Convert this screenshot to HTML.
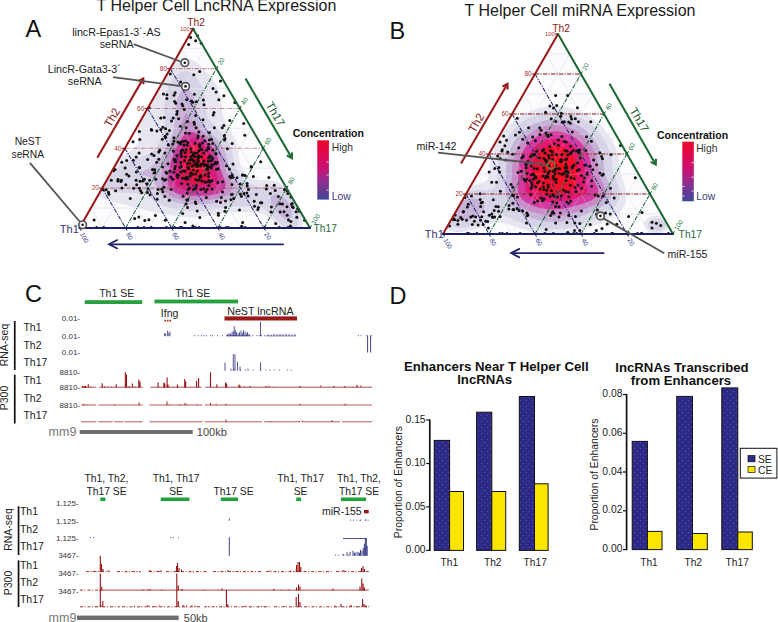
<!DOCTYPE html>
<html><head><meta charset="utf-8"><title>T Helper Cell Expression</title>
<style>html,body{margin:0;padding:0;background:#fff;width:778px;height:622px;overflow:hidden;font-family:"Liberation Sans",sans-serif}</style>
</head><body>
<svg width="778" height="622" viewBox="0 0 778 622" style="position:absolute;left:0;top:0">
<rect width="778" height="622" fill="#fff"/>
<defs><linearGradient id="cgrad" x1="0" y1="0" x2="0" y2="1"><stop offset="0" stop-color="#ea0628"/><stop offset="0.28" stop-color="#dc0a58"/><stop offset="0.5" stop-color="#c41478"/><stop offset="0.7" stop-color="#8c2e8e"/><stop offset="0.86" stop-color="#633a92"/><stop offset="1" stop-color="#3e489c"/></linearGradient></defs>
<clipPath id="clA"><path d="M79.5,228 L310,228 L193,28.7 Z"/></clipPath>
<path d="M79.5,228 L310,228 L193,28.7 Z" fill="#fcfcfe"/>
<g stroke="#d9d9e0" stroke-width="0.6"><line x1="90.8" y1="208.1" x2="298.3" y2="208.1"/><line x1="181.7" y1="48.6" x2="286.9" y2="228"/><line x1="102.5" y1="228" x2="204.7" y2="48.6"/><line x1="113.5" y1="168.2" x2="274.9" y2="168.2"/><line x1="158.9" y1="88.5" x2="240.8" y2="228"/><line x1="148.7" y1="228" x2="228.1" y2="88.5"/><line x1="136.2" y1="128.3" x2="251.5" y2="128.3"/><line x1="136.2" y1="128.3" x2="194.8" y2="228"/><line x1="194.8" y1="228" x2="251.5" y2="128.3"/><line x1="158.9" y1="88.5" x2="228.1" y2="88.5"/><line x1="113.6" y1="168.2" x2="148.7" y2="228"/><line x1="240.8" y1="228" x2="274.9" y2="168.2"/><line x1="181.7" y1="48.6" x2="204.7" y2="48.6"/><line x1="90.8" y1="208.1" x2="102.5" y2="228"/><line x1="286.9" y1="228" x2="298.3" y2="208.1"/></g>
<g clip-path="url(#clA)"><path d="M295.5,233.8 293.5,234.1 291.5,233.9 290.5,233.6 288.5,233 287.5,232.5 285.9,231.7 284.5,230.9 283.5,230.2 282.5,229.5 281.5,228.7 280.2,227.7 279.1,226.7 278,225.7 276.9,224.7 275.8,223.7 274.8,222.7 273.7,221.7 272.7,220.7 271.6,219.7 270.5,218.7 269.5,217.9 268.5,217.1 267.5,216.4 266.4,215.7 264.6,214.7 263.5,214.2 261.9,213.7 260.5,213.3 258.5,213 256.5,212.7 255.5,212.6 253.5,212.5 251.5,212.4 249.5,212.3 247.5,212.3 245.5,212.2 243.5,212.2 241.5,212.1 239.5,212.1 237.5,212.1 235.5,212.2 233.5,212.2 231.5,212.4 229.5,212.5 227.7,212.7 226.5,212.8 224.5,213.1 222.5,213.4 220.8,213.7 219.5,213.9 217.5,214.3 215.5,214.7 214.5,214.9 212.5,215.2 210.5,215.6 209.5,215.8 207.5,216.1 205.5,216.4 203.5,216.7 202.5,216.8 200.5,217 198.5,217.2 196.5,217.3 194.5,217.4 192.5,217.4 190.5,217.4 188.5,217.3 186.5,217.2 184.5,217.1 182.5,216.9 180.8,216.7 179.5,216.6 177.5,216.3 175.5,216 173.6,215.7 172.5,215.5 170.5,215.2 168.5,214.8 167.5,214.7 165.5,214.3 163.5,213.9 162.3,213.7 160.5,213.4 158.5,213 157.2,212.7 155.5,212.4 153.5,211.9 152.4,211.7 150.5,211.3 148.5,210.9 147.5,210.6 145.5,210.2 143.5,209.7 142.5,209.5 140.5,209 139.4,208.7 137.5,208.2 135.7,207.7 134.5,207.4 132.5,206.8 131.5,206.5 129.5,206 128.5,205.7 126.5,205.1 125,204.7 123.5,204.3 121.5,203.8 120.5,203.5 118.5,203 117.4,202.7 115.5,202.2 113.5,201.7 112.5,201.5 110.5,200.9 109.5,200.7 107.5,200.1 106.2,199.7 104.5,199.2 103.1,198.7 101.5,198.1 100.5,197.7 98.5,196.8 97.5,196.3 96.4,195.7 94.9,194.7 93.7,193.7 92.7,192.7 92,191.7 91.4,190.7 90.7,188.7 90.5,186.7 90.8,184.7 91.5,182.7 92,181.7 92.5,180.7 93.5,179.1 94.5,177.8 95.4,176.7 96.2,175.7 97.2,174.7 98.2,173.7 99.2,172.7 100.3,171.7 101.5,170.7 102.5,169.8 103.5,169 104.5,168.2 105.5,167.5 106.6,166.7 107.9,165.7 109.4,164.7 110.5,163.9 111.5,163.2 112.5,162.6 113.8,161.7 115.4,160.7 116.5,160 117.5,159.4 118.6,158.7 120.2,157.7 121.5,156.9 122.5,156.2 123.5,155.6 124.9,154.7 126.5,153.7 127.5,153 128.5,152.3 129.5,151.7 130.8,150.7 132.1,149.7 133.3,148.7 134.4,147.7 135.3,146.7 136.1,145.7 136.7,144.7 137.5,143.2 138,141.7 138.4,139.7 138.5,137.7 138.4,135.7 138.3,133.7 138.2,131.7 138,129.7 137.9,127.7 137.8,125.7 137.7,123.7 137.6,121.7 137.6,119.7 137.6,117.7 137.7,115.7 137.8,113.7 137.9,111.7 138.1,109.7 138.4,107.7 138.5,106.7 138.8,104.7 139.2,102.7 139.5,101.4 139.9,99.7 140.5,97.7 140.8,96.7 141.5,94.7 141.8,93.7 142.5,92 143.1,90.7 143.6,89.7 144.5,87.8 145.1,86.7 145.7,85.7 146.5,84.4 147.5,82.9 148.4,81.7 149.2,80.7 150,79.7 150.8,78.7 151.8,77.7 152.7,76.7 153.8,75.7 154.9,74.7 156,73.7 157.3,72.7 158.5,71.7 159.5,71 160.5,70.3 161.5,69.6 162.8,68.7 164.3,67.7 165.5,66.9 166.5,66.3 167.5,65.7 169,64.7 170.5,63.8 171.5,63.2 172.5,62.6 174.1,61.7 175.5,61 176.5,60.5 178.4,59.7 179.5,59.3 181.5,58.8 182.5,58.6 184.5,58.4 186.5,58.5 188,58.7 189.5,59 191.4,59.7 192.5,60.2 193.5,60.7 195.2,61.7 196.5,62.5 197.5,63.3 198.5,64 199.5,64.9 200.5,65.7 201.6,66.7 202.6,67.7 203.6,68.7 204.6,69.7 205.6,70.7 206.5,71.7 207.5,72.8 208.5,74 209.5,75.1 210.5,76.4 211.5,77.7 212.2,78.7 212.9,79.7 213.6,80.7 214.5,82.1 215.4,83.7 216,84.7 216.5,85.7 217.4,87.7 217.9,88.7 218.5,90.3 219,91.7 219.5,93.4 219.9,94.7 220.4,96.7 220.6,97.7 220.9,99.7 221.2,101.7 221.5,103.7 221.6,104.7 221.8,106.7 221.9,108.7 222.2,110.7 222.4,112.7 222.6,113.7 223.1,115.7 223.5,117.2 224,118.7 224.5,120 225.2,121.7 225.7,122.7 226.5,124.3 227.2,125.7 227.8,126.7 228.5,128 229.4,129.7 229.9,130.7 230.5,131.8 231.5,133.7 232,134.7 232.5,135.8 233.4,137.7 233.8,138.7 234.5,140.3 235,141.7 235.5,143 236.1,144.7 236.5,146 237,147.7 237.5,149.7 237.8,150.7 238.2,152.7 238.5,154.5 238.7,155.7 239,157.7 239.4,159.7 239.5,160.7 239.9,162.7 240.4,164.7 240.8,165.7 241.5,167.6 242.1,168.7 242.6,169.7 243.5,171 244.5,172.3 245.5,173.4 246.5,174.3 247.5,175.2 248.5,175.9 249.6,176.7 251.4,177.7 252.5,178.2 253.8,178.7 255.5,179.2 257.5,179.7 258.5,179.8 260.5,180 262.5,180 264.5,180 266.5,180 268.5,180 270.5,180.2 272.5,180.5 273.5,180.8 275.5,181.3 276.5,181.7 278.5,182.5 279.5,183 280.8,183.7 282.5,184.7 283.5,185.3 284.5,185.9 285.6,186.7 286.9,187.7 288.2,188.7 289.4,189.7 290.5,190.7 291.5,191.6 292.5,192.6 293.5,193.7 294.4,194.7 295.3,195.7 296.1,196.7 296.9,197.7 297.6,198.7 298.5,200 299.5,201.7 300,202.7 300.5,203.7 301.3,205.7 301.7,206.7 302.3,208.7 302.5,209.9 302.8,211.7 303,213.7 303.1,215.7 303.1,217.7 303.1,219.7 302.9,221.7 302.6,223.7 302.4,224.7 301.9,226.7 301.5,227.8 300.6,229.7 300,230.7 299.2,231.7 298,232.7 296.5,233.5 295.5,233.8Z" fill="#e6e6f1" fill-rule="evenodd"/><path d="M292.5,228.8 290.5,228.8 289.5,228.6 287.5,228 286.5,227.6 284.9,226.7 283.5,225.8 282.5,225.1 281.5,224.4 280.5,223.5 279.5,222.7 278.4,221.7 277.4,220.7 276.3,219.7 275.3,218.7 274.3,217.7 273.4,216.7 272.4,215.7 271.3,214.7 270.3,213.7 269.2,212.7 268,211.7 266.8,210.7 265.5,209.8 264.5,209.2 263.5,208.6 261.5,207.8 260.5,207.4 258.5,207 256.5,206.7 255.5,206.6 253.5,206.5 251.5,206.4 249.5,206.4 247.5,206.3 245.5,206.3 243.5,206.2 241.5,206.2 239.5,206.2 237.5,206.2 235.5,206.3 233.5,206.5 231.5,206.7 230.5,206.8 228.5,207 226.5,207.3 224.5,207.6 223.5,207.8 221.5,208.1 219.5,208.5 218,208.7 216.5,209 214.5,209.3 212.5,209.6 211.5,209.8 209.5,210.1 207.5,210.4 205.5,210.6 204.5,210.7 202.5,210.9 200.5,211.1 198.5,211.2 196.5,211.3 194.5,211.3 192.5,211.3 190.5,211.2 188.5,211.1 186.5,210.9 184.5,210.7 183.5,210.6 181.5,210.3 179.5,210 178.2,209.7 176.5,209.4 174.5,208.9 173.5,208.7 171.5,208.2 169.9,207.7 168.5,207.3 166.7,206.7 165.5,206.3 163.9,205.7 162.5,205.1 161.5,204.7 159.5,203.8 158.5,203.3 157.5,202.7 155.8,201.7 154.5,200.9 153.5,200.2 152.5,199.5 151.5,198.7 150.1,197.7 148.8,196.7 147.5,195.7 146.5,195.1 145.5,194.6 143.5,193.9 142.5,193.6 140.5,193.3 138.5,193.2 136.5,193.1 134.5,193.1 132.5,193.1 130.5,193.1 128.5,193 126.5,193 124.5,192.9 122.5,192.7 121.5,192.6 119.5,192.4 117.5,192.1 115.5,191.7 114.5,191.5 112.5,190.9 111.5,190.6 109.5,189.8 108.5,189.3 107.5,188.7 106.3,187.7 105.4,186.7 104.5,185.1 104.2,183.7 104.3,181.7 104.5,180.7 105.5,178.7 106.1,177.7 106.8,176.7 107.7,175.7 108.6,174.7 109.6,173.7 110.7,172.7 111.9,171.7 113.2,170.7 114.5,169.8 115.5,169.1 116.5,168.5 117.7,167.7 119.4,166.7 120.5,166.1 121.5,165.5 123,164.7 124.5,164 125.5,163.5 127.1,162.7 128.5,162.1 129.5,161.6 131.5,160.8 132.5,160.4 134.2,159.7 135.5,159.2 136.8,158.7 138.5,158.1 139.5,157.7 141.5,157 142.5,156.6 144.5,155.8 145.5,155.4 147.1,154.7 148.5,154 149.5,153.4 150.7,152.7 152,151.7 153.2,150.7 154.3,149.7 155.1,148.7 156,147.7 156.7,146.7 157.5,145.5 158.5,143.8 159.1,142.7 159.6,141.7 160.5,139.9 161.1,138.7 161.5,137.7 162.3,135.7 162.7,134.7 163.3,132.7 163.6,131.7 164.1,129.7 164.4,127.7 164.6,126.7 164.7,124.7 164.8,122.7 164.8,120.7 164.8,118.7 164.7,116.7 164.6,114.7 164.5,112.7 164.5,111.7 164.4,109.7 164.3,107.7 164.3,105.7 164.4,103.7 164.5,102.1 164.6,100.7 164.9,98.7 165.2,96.7 165.5,95.4 165.9,93.7 166.5,91.7 166.8,90.7 167.5,88.9 168,87.7 168.5,86.6 169.4,84.7 170,83.7 170.5,82.7 171.5,81.2 172.5,79.7 173.2,78.7 174,77.7 174.9,76.7 175.9,75.7 176.9,74.7 178.2,73.7 179.5,72.8 180.5,72.2 181.7,71.7 183.5,71.2 185.5,70.9 187.5,71.2 189.3,71.7 190.5,72.2 191.5,72.8 192.7,73.7 193.9,74.7 194.9,75.7 195.8,76.7 196.6,77.7 197.5,78.9 198.5,80.4 199.3,81.7 199.8,82.7 200.5,84.1 201.3,85.7 201.7,86.7 202.4,88.7 202.8,89.7 203.4,91.7 203.6,92.7 204.1,94.7 204.5,96.6 204.7,97.7 205,99.7 205.3,101.7 205.5,103.7 205.6,104.7 205.7,106.7 205.9,108.7 206.2,110.7 206.5,112.7 206.7,113.7 207.2,115.7 207.6,116.7 208.5,118.7 209.1,119.7 209.8,120.7 210.5,121.7 211.5,122.8 212.5,123.9 213.5,124.9 214.5,125.8 215.5,126.8 216.5,127.8 217.5,128.8 218.5,129.8 219.5,130.8 220.5,131.9 221.5,133 222.5,134.2 223.5,135.4 224.4,136.7 225.1,137.7 225.8,138.7 226.5,139.8 227.5,141.5 228.2,142.7 228.7,143.7 229.5,145.4 230.1,146.7 230.5,147.8 231.2,149.7 231.5,150.7 232.1,152.7 232.5,154.3 232.8,155.7 233.3,157.7 233.5,158.9 233.9,160.7 234.3,162.7 234.5,163.7 235.1,165.7 235.5,167 236.2,168.7 236.6,169.7 237.5,171.3 238.3,172.7 239,173.7 239.7,174.7 240.5,175.7 241.5,177 242.5,178.1 243.5,179.1 244.5,180.1 245.5,180.9 246.5,181.7 247.9,182.7 249.5,183.7 250.5,184.2 251.5,184.7 253.5,185.5 254.5,185.9 256.5,186.4 258.5,186.7 259.5,186.8 261.5,186.7 262.5,186.6 264.5,186.3 266.5,186 268.5,185.7 269.5,185.6 271.5,185.6 272.9,185.7 274.5,185.9 276.5,186.4 277.5,186.8 279.5,187.6 280.5,188.1 281.7,188.7 283.3,189.7 284.5,190.5 285.5,191.3 286.5,192.1 287.5,192.9 288.5,193.9 289.5,194.9 290.5,195.9 291.5,197.1 292.5,198.3 293.5,199.7 294.2,200.7 294.8,201.7 295.5,203 296.4,204.7 296.8,205.7 297.5,207.6 297.9,208.7 298.4,210.7 298.6,211.7 298.9,213.7 299,215.7 299,217.7 298.9,219.7 298.6,221.7 298.3,222.7 297.6,224.7 297,225.7 296.3,226.7 295.1,227.7 293.5,228.5 292.5,228.8Z" fill="#d8d4e7" fill-rule="evenodd"/><path d="M210.5,203.7 208.5,204 206.5,204.1 204.5,204.3 202.5,204.4 200.5,204.5 198.5,204.6 196.5,204.6 194.5,204.6 192.5,204.6 190.5,204.5 188.5,204.4 186.5,204.2 184.5,204 182.7,203.7 181.5,203.5 179.5,203.2 177.5,202.7 176.5,202.5 174.5,201.9 173.5,201.6 171.5,200.9 170.5,200.5 168.8,199.7 167.5,199 166.5,198.5 165.3,197.7 163.9,196.7 162.7,195.7 161.7,194.7 160.7,193.7 159.9,192.7 159.1,191.7 158.5,190.7 157.5,189 156.8,187.7 156.3,186.7 155.5,185 154.8,183.7 154.3,182.7 153.5,181.3 152.5,179.9 151.5,178.8 150.5,177.9 149.5,177.2 148.5,176.7 146.5,176 145.1,175.7 143.5,175.4 141.5,175 140.5,174.7 140.5,172.9 141.5,172.1 142.5,171.5 143.9,170.7 145.5,169.9 146.5,169.4 147.8,168.7 149.5,167.8 150.5,167.2 151.5,166.5 152.6,165.7 153.9,164.7 155,163.7 156.1,162.7 157.1,161.7 158,160.7 158.8,159.7 159.6,158.7 160.5,157.4 161.5,155.9 162.3,154.7 162.9,153.7 163.5,152.7 164.5,150.9 165.2,149.7 165.7,148.7 166.5,147.2 167.3,145.7 167.8,144.7 168.5,143.2 169.2,141.7 169.7,140.7 170.5,138.9 171,137.7 171.5,136.5 172.1,134.7 172.5,133.7 173.1,131.7 173.5,130.2 173.8,128.7 174.2,126.7 174.4,124.7 174.6,123.7 174.7,121.7 174.8,119.7 174.9,117.7 175,115.7 175.1,113.7 175.2,111.7 175.4,109.7 175.5,108.3 175.7,106.7 176,104.7 176.3,102.7 176.6,101.7 177.1,99.7 177.5,98.3 178.1,96.7 178.5,95.7 179.5,93.8 180.2,92.7 181,91.7 181.9,90.7 183.3,89.7 184.5,89.2 186.5,89 188.3,89.7 189.5,90.6 190.5,91.6 191.4,92.7 192,93.7 192.5,94.7 193.4,96.7 193.8,97.7 194.5,99.7 194.8,100.7 195.2,102.7 195.5,103.9 195.8,105.7 196.1,107.7 196.4,109.7 196.6,110.7 196.9,112.7 197.2,114.7 197.5,116.1 197.9,117.7 198.5,119.4 199.1,120.7 199.6,121.7 200.5,123.1 201.5,124.4 202.5,125.5 203.5,126.5 204.5,127.5 205.5,128.4 206.5,129.3 207.5,130.2 208.5,131 209.5,131.9 210.5,132.7 211.6,133.7 212.7,134.7 213.8,135.7 214.8,136.7 215.8,137.7 216.8,138.7 217.7,139.7 218.5,140.7 219.5,141.9 220.5,143.3 221.4,144.7 222.1,145.7 222.6,146.7 223.5,148.3 224.1,149.7 224.6,150.7 225.4,152.7 225.7,153.7 226.3,155.7 226.6,156.7 227.1,158.7 227.5,160.6 227.8,161.7 228.2,163.7 228.5,164.9 229,166.7 229.5,168.3 230.1,169.7 230.5,170.8 231.4,172.7 232,173.7 232.5,174.7 233.5,176.4 234.3,177.7 234.9,178.7 235.5,179.9 236.5,181.7 237,182.7 237.5,183.7 238.4,185.7 238.8,186.7 239.4,188.7 239.6,189.7 239.6,191.7 239.3,192.7 238.5,194.2 237.5,195.3 236.5,196.1 235.5,196.7 233.7,197.7 232.5,198.3 231.5,198.7 229.5,199.5 228.5,199.8 226.5,200.5 225.5,200.8 223.5,201.3 222,201.7 220.5,202 218.5,202.5 217.2,202.7 215.5,203 213.5,203.3 211.5,203.6 210.5,203.7ZM289.5,218.9 287.5,219.4 285.5,219 284.5,218.6 283,217.7 281.6,216.7 280.5,215.8 279.5,214.9 278.5,213.9 277.5,212.8 276.5,211.7 275.7,210.7 274.9,209.7 274.2,208.7 273.5,207.7 272.5,206.1 271.7,204.7 271.3,203.7 270.5,201.7 270.4,200.7 270.4,198.7 270.7,197.7 271.5,196.5 272.5,195.7 274.5,194.8 275.5,194.7 276.6,194.7 278.5,195 280.3,195.7 281.5,196.3 282.5,196.9 283.6,197.7 284.8,198.7 285.8,199.7 286.7,200.7 287.6,201.7 288.5,203 289.5,204.7 290,205.7 290.5,206.8 291.2,208.7 291.5,209.9 291.8,211.7 291.9,213.7 291.7,215.7 291.4,216.7 290.5,218.1 289.5,218.9Z" fill="#c8b4d8" fill-rule="evenodd"/><path d="M210.5,199.7 208.5,199.9 206.5,200.1 204.5,200.2 202.5,200.3 200.5,200.3 198.5,200.4 196.5,200.4 194.5,200.3 192.5,200.3 190.5,200.2 188.5,200.1 186.5,200 184.5,199.7 183.5,199.6 181.5,199.3 179.5,198.9 178.5,198.7 176.5,198.1 175.2,197.7 173.5,197.1 172.5,196.6 170.7,195.7 169.5,195 168.5,194.3 167.5,193.5 166.5,192.6 165.5,191.6 164.5,190.3 163.5,188.7 163,187.7 162.5,186.5 161.9,184.7 161.5,182.8 161.3,181.7 161.2,179.7 161.2,177.7 161.3,175.7 161.5,174 161.7,172.7 162.1,170.7 162.5,169.2 162.9,167.7 163.5,165.9 163.9,164.7 164.5,163.1 165,161.7 165.5,160.6 166.3,158.7 166.7,157.7 167.5,156 168.1,154.7 168.5,153.7 169.5,151.7 169.9,150.7 170.5,149.5 171.4,147.7 171.9,146.7 172.5,145.4 173.3,143.7 173.8,142.7 174.5,141.3 175.2,139.7 175.7,138.7 176.5,137 177.1,135.7 177.5,134.7 178.4,132.7 178.8,131.7 179.5,129.9 180,128.7 180.5,127.2 181,125.7 181.5,124.3 182,122.7 182.5,120.9 182.9,119.7 183.4,117.7 183.8,116.7 184.5,115 185.5,113.7 186.5,113.6 187.5,114.5 188.2,115.7 188.7,116.7 189.5,118.1 190.3,119.7 190.9,120.7 191.6,121.7 192.5,122.9 193.5,124 194.5,125.1 195.5,126 196.5,126.9 197.5,127.7 198.7,128.7 200,129.7 201.2,130.7 202.5,131.7 203.5,132.5 204.5,133.3 205.5,134.1 206.5,134.9 207.5,135.8 208.5,136.7 209.6,137.7 210.6,138.7 211.7,139.7 212.6,140.7 213.6,141.7 214.5,142.8 215.5,144 216.5,145.3 217.5,146.7 218.1,147.7 218.7,148.7 219.5,150.1 220.3,151.7 220.8,152.7 221.5,154.6 221.9,155.7 222.5,157.7 222.8,158.7 223.3,160.7 223.5,161.8 223.9,163.7 224.4,165.7 224.7,166.7 225.3,168.7 225.6,169.7 226.4,171.7 226.8,172.7 227.5,174.1 228.3,175.7 228.8,176.7 229.5,178.1 230.3,179.7 230.7,180.7 231.4,182.7 231.7,183.7 232,185.7 232,187.7 231.5,189.7 231,190.7 230.4,191.7 229.5,192.8 228.5,193.7 227.2,194.7 225.5,195.7 224.5,196.2 223.4,196.7 221.5,197.4 220.5,197.7 218.5,198.3 216.8,198.7 215.5,199 213.5,199.3 211.5,199.6 210.5,199.7Z" fill="#c490c8" fill-rule="evenodd"/><path d="M205.5,195.7 203.5,195.8 201.5,195.8 199.5,195.8 197.5,195.8 195.5,195.8 193.5,195.8 191.5,195.8 190.2,195.7 188.5,195.6 186.5,195.5 184.5,195.3 182.5,194.9 181.3,194.7 179.5,194.3 177.7,193.7 176.5,193.2 175.3,192.7 173.5,191.7 172.5,191 171.5,190.1 170.5,189.1 169.5,187.8 168.9,186.7 168.4,185.7 167.8,183.7 167.6,181.7 167.6,179.7 167.7,177.7 168,175.7 168.4,173.7 168.6,172.7 169,170.7 169.4,168.7 169.6,167.7 170.1,165.7 170.5,163.8 170.8,162.7 171.3,160.7 171.6,159.7 172.3,157.7 172.6,156.7 173.4,154.7 173.8,153.7 174.5,152 175.1,150.7 175.5,149.7 176.5,147.7 177,146.7 177.5,145.6 178.5,143.7 179,142.7 179.6,141.7 180.5,140.1 181.4,138.7 182.1,137.7 182.8,136.7 183.6,135.7 184.5,134.7 185.6,133.7 187.2,132.7 188.5,132.2 190.5,131.9 192.5,132.1 194.5,132.7 195.5,133 196.9,133.7 198.5,134.6 199.5,135.2 200.5,135.8 201.7,136.7 203,137.7 204.2,138.7 205.3,139.7 206.4,140.7 207.4,141.7 208.4,142.7 209.3,143.7 210.2,144.7 211,145.7 211.8,146.7 212.6,147.7 213.5,149 214.5,150.6 215.1,151.7 215.6,152.7 216.5,154.5 217,155.7 217.5,157.1 218,158.7 218.5,160.5 218.8,161.7 219.3,163.7 219.5,164.8 219.9,166.7 220.4,168.7 220.7,169.7 221.4,171.7 221.7,172.7 222.5,174.6 223,175.7 223.5,176.9 224.3,178.7 224.6,179.7 225.2,181.7 225.5,183.3 225.6,184.7 225.5,185.7 224.9,187.7 224.4,188.7 223.5,189.9 222.5,190.9 221.5,191.7 219.8,192.7 218.5,193.3 217.5,193.7 215.5,194.3 214,194.7 212.5,195 210.5,195.3 208.5,195.5 206.5,195.7 205.5,195.7Z" fill="#c83c9c" fill-rule="evenodd"/><path d="M202.5,190.7 200.5,190.8 198.5,190.8 196.5,190.8 194.5,190.8 192.5,190.7 191.5,190.7 189.5,190.6 187.5,190.4 185.5,190.1 183.5,189.7 182.5,189.4 180.5,188.7 179.5,188.2 178.5,187.6 177.3,186.7 176.3,185.7 175.5,184.4 174.8,182.7 174.5,181.5 174.3,179.7 174.4,177.7 174.5,176.4 174.7,174.7 175,172.7 175.2,170.7 175.5,168.7 175.6,167.7 175.9,165.7 176.2,163.7 176.5,162.2 176.8,160.7 177.3,158.7 177.6,157.7 178.3,155.7 178.6,154.7 179.4,152.7 179.9,151.7 180.5,150.3 181.3,148.7 181.8,147.7 182.5,146.5 183.5,144.9 184.3,143.7 185.1,142.7 186.1,141.7 187.2,140.7 188.5,139.8 189.5,139.3 191.5,138.7 192.5,138.6 193.6,138.7 195.5,139.1 197.1,139.7 198.5,140.4 199.5,141 200.5,141.7 201.8,142.7 202.9,143.7 203.9,144.7 204.9,145.7 205.7,146.7 206.6,147.7 207.5,148.9 208.5,150.3 209.4,151.7 210,152.7 210.6,153.7 211.5,155.5 212,156.7 212.5,158 213.1,159.7 213.5,161.1 213.9,162.7 214.3,164.7 214.5,165.7 214.9,167.7 215.3,169.7 215.5,170.7 216,172.7 216.5,174.6 216.8,175.7 217.4,177.7 217.7,178.7 218.1,180.7 218.2,182.7 217.7,184.7 217.2,185.7 216.5,186.7 215.3,187.7 213.6,188.7 212.5,189.2 210.8,189.7 209.5,190 207.5,190.3 205.5,190.5 203.5,190.7 202.5,190.7Z" fill="#d81a7c" fill-rule="evenodd"/><path d="M200.5,184.8 198.5,184.9 196.5,185 194.5,185 192.5,184.9 191,184.7 189.5,184.4 187.5,183.9 186.5,183.5 185,182.7 183.8,181.7 183,180.7 182.4,179.7 181.7,177.7 181.5,176.4 181.3,174.7 181.2,172.7 181.2,170.7 181.2,168.7 181.3,166.7 181.4,164.7 181.5,163.7 181.8,161.7 182.2,159.7 182.5,158.5 183,156.7 183.5,155.3 184.1,153.7 184.6,152.7 185.5,150.9 186.3,149.7 187,148.7 187.8,147.7 188.8,146.7 190.2,145.7 191.5,145.1 193.5,144.7 195.5,145 197.3,145.7 198.5,146.4 199.5,147.1 200.5,148 201.5,149 202.5,150.1 203.5,151.4 204.4,152.7 205,153.7 205.6,154.7 206.5,156.4 207.1,157.7 207.5,158.8 208.1,160.7 208.5,162.1 208.8,163.7 209.2,165.7 209.4,167.7 209.5,168.7 209.7,170.7 209.8,172.7 209.9,174.7 209.9,176.7 209.7,178.7 209.5,179.7 208.5,181.5 207.5,182.5 206.5,183.2 205.4,183.7 203.5,184.3 201.5,184.7 200.5,184.8Z" fill="#ec1048" fill-rule="evenodd"/><path d="M196.5,173.9 194.5,173.9 193.5,173.6 192.1,172.7 191.1,171.7 190.4,170.7 189.6,168.7 189.3,167.7 189,165.7 188.9,163.7 189,161.7 189.4,159.7 189.8,158.7 190.5,157.1 191.4,155.7 192.5,154.8 193.5,154.3 195.5,154.4 196.5,154.8 197.6,155.7 198.5,156.7 199.5,158.2 200.2,159.7 200.6,160.7 201.1,162.7 201.3,164.7 201.3,166.7 201,168.7 200.5,170.3 199.7,171.7 198.8,172.7 197.5,173.5 196.5,173.9Z" fill="#f60c2c" fill-rule="evenodd"/></g>
<g stroke="#ffffff" stroke-width="0.6" opacity="0.35"><line x1="90.8" y1="208.1" x2="298.3" y2="208.1"/><line x1="181.7" y1="48.6" x2="286.9" y2="228"/><line x1="102.5" y1="228" x2="204.7" y2="48.6"/><line x1="102.2" y1="188.1" x2="286.6" y2="188.1"/><line x1="170.3" y1="68.6" x2="263.9" y2="228"/><line x1="125.6" y1="228" x2="216.4" y2="68.6"/><line x1="113.5" y1="168.2" x2="274.9" y2="168.2"/><line x1="158.9" y1="88.5" x2="240.8" y2="228"/><line x1="148.7" y1="228" x2="228.1" y2="88.5"/><line x1="124.9" y1="148.3" x2="263.2" y2="148.3"/><line x1="147.6" y1="108.4" x2="217.8" y2="228"/><line x1="171.7" y1="228" x2="239.8" y2="108.4"/><line x1="136.2" y1="128.3" x2="251.5" y2="128.3"/><line x1="136.2" y1="128.3" x2="194.8" y2="228"/><line x1="194.8" y1="228" x2="251.5" y2="128.3"/><line x1="147.6" y1="108.4" x2="239.8" y2="108.4"/><line x1="124.9" y1="148.3" x2="171.7" y2="228"/><line x1="217.8" y1="228" x2="263.2" y2="148.3"/><line x1="158.9" y1="88.5" x2="228.1" y2="88.5"/><line x1="113.6" y1="168.2" x2="148.7" y2="228"/><line x1="240.8" y1="228" x2="274.9" y2="168.2"/><line x1="170.3" y1="68.6" x2="216.4" y2="68.6"/><line x1="102.2" y1="188.1" x2="125.6" y2="228"/><line x1="263.9" y1="228" x2="286.6" y2="188.1"/><line x1="181.7" y1="48.6" x2="204.7" y2="48.6"/><line x1="90.8" y1="208.1" x2="102.5" y2="228"/><line x1="286.9" y1="228" x2="298.3" y2="208.1"/></g>
<g stroke-width="1.05" stroke-dasharray="4.4,1.2,1.2,1.2"><line x1="102.2" y1="188.1" x2="286.6" y2="188.1" stroke="#7e1414" opacity="0.45"/><line x1="170.3" y1="68.6" x2="263.9" y2="228" stroke="#262670"/><line x1="125.6" y1="228" x2="216.4" y2="68.6" stroke="#1c6032"/><line x1="124.9" y1="148.3" x2="263.2" y2="148.3" stroke="#7e1414" opacity="0.45"/><line x1="147.6" y1="108.4" x2="217.8" y2="228" stroke="#262670"/><line x1="171.7" y1="228" x2="239.8" y2="108.4" stroke="#1c6032"/><line x1="147.6" y1="108.4" x2="239.8" y2="108.4" stroke="#7e1414" opacity="0.45"/><line x1="124.9" y1="148.3" x2="171.7" y2="228" stroke="#262670"/><line x1="217.8" y1="228" x2="263.2" y2="148.3" stroke="#1c6032"/><line x1="170.3" y1="68.6" x2="216.4" y2="68.6" stroke="#7e1414" opacity="0.45"/><line x1="102.2" y1="188.1" x2="125.6" y2="228" stroke="#262670"/><line x1="263.9" y1="228" x2="286.6" y2="188.1" stroke="#1c6032"/></g>
<g fill="#111"><circle cx="180.9" cy="144" r="1.5"/><circle cx="197.3" cy="152.9" r="1.5"/><circle cx="189.5" cy="188.1" r="1.5"/><circle cx="216" cy="163.8" r="1.5"/><circle cx="199.9" cy="146.7" r="1.5"/><circle cx="192.9" cy="174.2" r="1.5"/><circle cx="195.6" cy="179.4" r="1.5"/><circle cx="180.8" cy="162.5" r="1.5"/><circle cx="215.5" cy="162.3" r="1.5"/><circle cx="179.6" cy="143" r="1.5"/><circle cx="197.4" cy="170.9" r="1.5"/><circle cx="194" cy="160.9" r="1.5"/><circle cx="210.1" cy="167.1" r="1.5"/><circle cx="174.8" cy="168.8" r="1.5"/><circle cx="186.1" cy="149.8" r="1.5"/><circle cx="187.3" cy="163.2" r="1.5"/><circle cx="203.2" cy="163.7" r="1.5"/><circle cx="193.3" cy="154.2" r="1.5"/><circle cx="195.7" cy="163.4" r="1.5"/><circle cx="199" cy="156.1" r="1.5"/><circle cx="193.7" cy="189.4" r="1.5"/><circle cx="175.6" cy="161.4" r="1.5"/><circle cx="184.1" cy="144.9" r="1.5"/><circle cx="208.6" cy="173.3" r="1.5"/><circle cx="175.1" cy="161.7" r="1.5"/><circle cx="185.7" cy="178.5" r="1.5"/><circle cx="207" cy="168.4" r="1.5"/><circle cx="193.3" cy="169.9" r="1.5"/><circle cx="200.7" cy="149.5" r="1.5"/><circle cx="211.8" cy="160.3" r="1.5"/><circle cx="182.7" cy="150" r="1.5"/><circle cx="193.3" cy="156.1" r="1.5"/><circle cx="188.1" cy="166.9" r="1.5"/><circle cx="192.3" cy="166.3" r="1.5"/><circle cx="203.7" cy="161" r="1.5"/><circle cx="191.3" cy="152" r="1.5"/><circle cx="208.1" cy="147.5" r="1.5"/><circle cx="209.8" cy="182" r="1.5"/><circle cx="216.2" cy="153.8" r="1.5"/><circle cx="190.6" cy="159.8" r="1.5"/><circle cx="203.7" cy="188.7" r="1.5"/><circle cx="189.4" cy="160.2" r="1.5"/><circle cx="208.6" cy="148.8" r="1.5"/><circle cx="185.5" cy="156.8" r="1.5"/><circle cx="188.8" cy="168.7" r="1.5"/><circle cx="216.4" cy="169.3" r="1.5"/><circle cx="181.2" cy="166.8" r="1.5"/><circle cx="187.8" cy="184.3" r="1.5"/><circle cx="207.4" cy="165.3" r="1.5"/><circle cx="201.2" cy="164.3" r="1.5"/><circle cx="212.8" cy="158.6" r="1.5"/><circle cx="182.8" cy="171" r="1.5"/><circle cx="203.6" cy="153.1" r="1.5"/><circle cx="181.1" cy="151.1" r="1.5"/><circle cx="187.1" cy="177.5" r="1.5"/><circle cx="198.1" cy="136" r="1.5"/><circle cx="208.8" cy="185.5" r="1.5"/><circle cx="214.8" cy="163.8" r="1.5"/><circle cx="198.1" cy="156.3" r="1.5"/><circle cx="178.6" cy="175.3" r="1.5"/><circle cx="212.5" cy="164.9" r="1.5"/><circle cx="199.8" cy="145.5" r="1.5"/><circle cx="194.8" cy="152.9" r="1.5"/><circle cx="199.6" cy="176.5" r="1.5"/><circle cx="200.7" cy="175.5" r="1.5"/><circle cx="210.8" cy="156.7" r="1.5"/><circle cx="191" cy="172.8" r="1.5"/><circle cx="208.5" cy="158.1" r="1.5"/><circle cx="210.4" cy="160.8" r="1.5"/><circle cx="174.9" cy="159.4" r="1.5"/><circle cx="195.3" cy="143.2" r="1.5"/><circle cx="177.2" cy="174.8" r="1.5"/><circle cx="177.5" cy="177.4" r="1.5"/><circle cx="207.6" cy="169.7" r="1.5"/><circle cx="174" cy="159.6" r="1.5"/><circle cx="195.9" cy="187.9" r="1.5"/><circle cx="187.9" cy="142.4" r="1.5"/><circle cx="180.5" cy="142.3" r="1.5"/><circle cx="190" cy="176.2" r="1.5"/><circle cx="196.8" cy="166.4" r="1.5"/><circle cx="201" cy="189.5" r="1.5"/><circle cx="198.7" cy="157.7" r="1.5"/><circle cx="185.1" cy="152.5" r="1.5"/><circle cx="181.8" cy="150.9" r="1.5"/><circle cx="188.2" cy="189.4" r="1.5"/><circle cx="179.8" cy="167.5" r="1.5"/><circle cx="191.4" cy="156.3" r="1.5"/><circle cx="207.4" cy="168.9" r="1.5"/><circle cx="197.8" cy="138" r="1.5"/><circle cx="195.4" cy="156.7" r="1.5"/><circle cx="212.9" cy="150.1" r="1.5"/><circle cx="206.5" cy="150.2" r="1.5"/><circle cx="198.3" cy="161.3" r="1.5"/><circle cx="197.5" cy="163.4" r="1.5"/><circle cx="195.8" cy="173.9" r="1.5"/><circle cx="201.9" cy="181" r="1.5"/><circle cx="211.4" cy="167.9" r="1.5"/><circle cx="204.8" cy="182.1" r="1.5"/><circle cx="206.1" cy="164.7" r="1.5"/><circle cx="209.8" cy="155.9" r="1.5"/><circle cx="202.5" cy="143" r="1.5"/><circle cx="190.5" cy="157.2" r="1.5"/><circle cx="193.9" cy="161.6" r="1.5"/><circle cx="203.1" cy="136.3" r="1.5"/><circle cx="197.7" cy="160.1" r="1.5"/><circle cx="190.5" cy="174" r="1.5"/><circle cx="208.6" cy="176.6" r="1.5"/><circle cx="199" cy="150.7" r="1.5"/><circle cx="208.8" cy="144.2" r="1.5"/><circle cx="209.1" cy="180.5" r="1.5"/><circle cx="201.5" cy="156.7" r="1.5"/><circle cx="181" cy="153.5" r="1.5"/><circle cx="192.5" cy="159.4" r="1.5"/><circle cx="187.2" cy="145.2" r="1.5"/><circle cx="204.8" cy="140.8" r="1.5"/><circle cx="154.9" cy="172.6" r="1.5"/><circle cx="232.2" cy="194.2" r="1.5"/><circle cx="165.2" cy="136.2" r="1.5"/><circle cx="213" cy="88.4" r="1.5"/><circle cx="150.1" cy="194.7" r="1.5"/><circle cx="247.1" cy="183.5" r="1.5"/><circle cx="234.9" cy="102.6" r="1.5"/><circle cx="199.1" cy="179.7" r="1.5"/><circle cx="122" cy="188" r="1.5"/><circle cx="182" cy="104.1" r="1.5"/><circle cx="271" cy="211.9" r="1.5"/><circle cx="111.3" cy="180.2" r="1.5"/><circle cx="113.6" cy="170.7" r="1.5"/><circle cx="182.4" cy="178.3" r="1.5"/><circle cx="170.3" cy="74" r="1.5"/><circle cx="121.8" cy="162.2" r="1.5"/><circle cx="224.4" cy="135.6" r="1.5"/><circle cx="261.8" cy="202.8" r="1.5"/><circle cx="196.2" cy="127.8" r="1.5"/><circle cx="118.1" cy="179.5" r="1.5"/><circle cx="155.4" cy="215.4" r="1.5"/><circle cx="212.1" cy="188.9" r="1.5"/><circle cx="175.2" cy="166.6" r="1.5"/><circle cx="156.7" cy="162.2" r="1.5"/><circle cx="206.7" cy="182" r="1.5"/><circle cx="173.8" cy="172.3" r="1.5"/><circle cx="209.2" cy="139.9" r="1.5"/><circle cx="225" cy="138.5" r="1.5"/><circle cx="184.2" cy="178.2" r="1.5"/><circle cx="207.1" cy="189.5" r="1.5"/><circle cx="222.5" cy="191.9" r="1.5"/><circle cx="170.8" cy="177" r="1.5"/><circle cx="187.1" cy="179.3" r="1.5"/><circle cx="157.4" cy="193.5" r="1.5"/><circle cx="274.2" cy="185.2" r="1.5"/><circle cx="169.3" cy="200.2" r="1.5"/><circle cx="208.1" cy="161.2" r="1.5"/><circle cx="214" cy="112.5" r="1.5"/><circle cx="160.8" cy="117.9" r="1.5"/><circle cx="193.3" cy="165.3" r="1.5"/><circle cx="270.4" cy="193.6" r="1.5"/><circle cx="165.6" cy="137.5" r="1.5"/><circle cx="152.5" cy="169.5" r="1.5"/><circle cx="136.2" cy="156.9" r="1.5"/><circle cx="189.3" cy="133.3" r="1.5"/><circle cx="222.6" cy="181.7" r="1.5"/><circle cx="180.4" cy="126.2" r="1.5"/><circle cx="181.2" cy="156.2" r="1.5"/><circle cx="144.8" cy="220.4" r="1.5"/><circle cx="292.4" cy="206.8" r="1.5"/><circle cx="217.9" cy="182.6" r="1.5"/><circle cx="290.4" cy="226" r="1.5"/><circle cx="233" cy="163.9" r="1.5"/><circle cx="156.9" cy="130.9" r="1.5"/><circle cx="182.7" cy="213.6" r="1.5"/><circle cx="206.3" cy="197.4" r="1.5"/><circle cx="142.7" cy="181.1" r="1.5"/><circle cx="151.6" cy="154" r="1.5"/><circle cx="166.7" cy="173.2" r="1.5"/><circle cx="126.7" cy="174.3" r="1.5"/><circle cx="187.7" cy="200.1" r="1.5"/><circle cx="128.9" cy="175.9" r="1.5"/><circle cx="216.6" cy="201.2" r="1.5"/><circle cx="164.6" cy="180.2" r="1.5"/><circle cx="140.6" cy="190.7" r="1.5"/><circle cx="205.1" cy="174.9" r="1.5"/><circle cx="204.4" cy="165.6" r="1.5"/><circle cx="200.3" cy="177.3" r="1.5"/><circle cx="106.3" cy="189.8" r="1.5"/><circle cx="184.6" cy="160.6" r="1.5"/><circle cx="186.6" cy="99.8" r="1.5"/><circle cx="155.8" cy="179.2" r="1.5"/><circle cx="172.7" cy="179.2" r="1.5"/><circle cx="284" cy="211.7" r="1.5"/><circle cx="218.4" cy="215.2" r="1.5"/><circle cx="243.7" cy="123.5" r="1.5"/><circle cx="185.3" cy="141.1" r="1.5"/><circle cx="115.6" cy="190.7" r="1.5"/><circle cx="296.8" cy="217.2" r="1.5"/><circle cx="165.9" cy="179.5" r="1.5"/><circle cx="182.8" cy="105.7" r="1.5"/><circle cx="149.6" cy="180.3" r="1.5"/><circle cx="154" cy="155.5" r="1.5"/><circle cx="172.7" cy="143.9" r="1.5"/><circle cx="159.8" cy="150.2" r="1.5"/><circle cx="115" cy="169.5" r="1.5"/><circle cx="218.1" cy="168.7" r="1.5"/><circle cx="266.7" cy="185.5" r="1.5"/><circle cx="275.7" cy="223.6" r="1.5"/><circle cx="151.3" cy="129.4" r="1.5"/><circle cx="195.3" cy="201.9" r="1.5"/><circle cx="195.7" cy="115.5" r="1.5"/><circle cx="204" cy="104.7" r="1.5"/><circle cx="147.7" cy="159.6" r="1.5"/><circle cx="288.5" cy="220" r="1.5"/><circle cx="186.8" cy="200" r="1.5"/><circle cx="218.4" cy="213.2" r="1.5"/><circle cx="166.9" cy="98.5" r="1.5"/><circle cx="139.1" cy="152.9" r="1.5"/><circle cx="284.5" cy="189.5" r="1.5"/><circle cx="279.8" cy="203.7" r="1.5"/><circle cx="176.8" cy="114.2" r="1.5"/><circle cx="171.5" cy="121.1" r="1.5"/><circle cx="136.3" cy="171.9" r="1.5"/><circle cx="195.9" cy="203.5" r="1.5"/><circle cx="148.9" cy="219.8" r="1.5"/><circle cx="216.1" cy="92.1" r="1.5"/><circle cx="266.4" cy="189" r="1.5"/><circle cx="169.4" cy="130.5" r="1.5"/><circle cx="209.4" cy="181.5" r="1.5"/><circle cx="177.2" cy="111.4" r="1.5"/><circle cx="187.5" cy="121.4" r="1.5"/><circle cx="165.3" cy="220.2" r="1.5"/><circle cx="147.2" cy="183.8" r="1.5"/><circle cx="215.8" cy="153.8" r="1.5"/><circle cx="162.9" cy="191.7" r="1.5"/><circle cx="197.5" cy="180.2" r="1.5"/><circle cx="186.1" cy="204.1" r="1.5"/><circle cx="168.2" cy="144.8" r="1.5"/><circle cx="173.6" cy="151" r="1.5"/><circle cx="108.9" cy="194.2" r="1.5"/><circle cx="192.9" cy="225.9" r="1.5"/><circle cx="197.2" cy="210.9" r="1.5"/><circle cx="139.8" cy="139.5" r="1.5"/><circle cx="287" cy="206.8" r="1.5"/><circle cx="290.9" cy="221.6" r="1.5"/><circle cx="278.4" cy="196.5" r="1.5"/><circle cx="199.8" cy="217.6" r="1.5"/><circle cx="163.4" cy="93.9" r="1.5"/><circle cx="217.4" cy="162.6" r="1.5"/><circle cx="174" cy="137.7" r="1.5"/><circle cx="242.6" cy="222.5" r="1.5"/><circle cx="185.5" cy="132.9" r="1.5"/><circle cx="169.9" cy="171.2" r="1.5"/><circle cx="174.7" cy="101.6" r="1.5"/><circle cx="158.8" cy="152.1" r="1.5"/><circle cx="162.3" cy="139.3" r="1.5"/><circle cx="154.7" cy="169.8" r="1.5"/><circle cx="196.7" cy="164.5" r="1.5"/><circle cx="232.2" cy="143.5" r="1.5"/><circle cx="186.5" cy="177.3" r="1.5"/><circle cx="139.7" cy="167.7" r="1.5"/><circle cx="168" cy="163.7" r="1.5"/><circle cx="162.9" cy="127.3" r="1.5"/><circle cx="213.2" cy="114.9" r="1.5"/><circle cx="268.9" cy="177.5" r="1.5"/><circle cx="220.5" cy="202.4" r="1.5"/><circle cx="164.9" cy="153" r="1.5"/><circle cx="149.1" cy="107.5" r="1.5"/><circle cx="133.4" cy="160.2" r="1.5"/><circle cx="133.6" cy="188.2" r="1.5"/><circle cx="240.3" cy="194.1" r="1.5"/><circle cx="192.8" cy="102.2" r="1.5"/><circle cx="254.2" cy="201.2" r="1.5"/><circle cx="160.9" cy="129.5" r="1.5"/><circle cx="229.8" cy="120.6" r="1.5"/><circle cx="203" cy="119.8" r="1.5"/><circle cx="189.9" cy="163.5" r="1.5"/><circle cx="144.4" cy="179.3" r="1.5"/><circle cx="148.1" cy="188.7" r="1.5"/><circle cx="225.5" cy="200.9" r="1.5"/><circle cx="163.9" cy="187.3" r="1.5"/><circle cx="226.5" cy="165.8" r="1.5"/><circle cx="244.8" cy="135.3" r="1.5"/><circle cx="175.1" cy="92.8" r="1.5"/><circle cx="103.3" cy="189.7" r="1.5"/><circle cx="180.7" cy="82" r="1.5"/><circle cx="230.9" cy="199.7" r="1.5"/><circle cx="256.3" cy="194.5" r="1.5"/><circle cx="154" cy="173" r="1.5"/><circle cx="224.5" cy="140.1" r="1.5"/><circle cx="166.9" cy="94.7" r="1.5"/><circle cx="173.2" cy="118.1" r="1.5"/><circle cx="222.2" cy="127.8" r="1.5"/><circle cx="185.2" cy="170.9" r="1.5"/><circle cx="275.2" cy="190.4" r="1.5"/><circle cx="230.9" cy="177.8" r="1.5"/><circle cx="158.8" cy="159.3" r="1.5"/><circle cx="242.5" cy="175.1" r="1.5"/><circle cx="198.8" cy="131.9" r="1.5"/><circle cx="203.4" cy="100.1" r="1.5"/><circle cx="287.2" cy="215.2" r="1.5"/><circle cx="175.8" cy="103.2" r="1.5"/><circle cx="232" cy="184.6" r="1.5"/><circle cx="183.1" cy="196.3" r="1.5"/><circle cx="248.1" cy="195.9" r="1.5"/><circle cx="194.5" cy="124.2" r="1.5"/><circle cx="186.2" cy="127.8" r="1.5"/><circle cx="184.3" cy="109.6" r="1.5"/><circle cx="136.7" cy="184.7" r="1.5"/><circle cx="165.6" cy="128.8" r="1.5"/><circle cx="178.6" cy="118.7" r="1.5"/><circle cx="134.6" cy="218.4" r="1.5"/><circle cx="126.7" cy="160.6" r="1.5"/><circle cx="287.9" cy="193.6" r="1.5"/><circle cx="94.1" cy="220.1" r="1.5"/><circle cx="164.8" cy="196.4" r="1.5"/><circle cx="133" cy="141.7" r="1.5"/><circle cx="185.1" cy="222.4" r="1.5"/><circle cx="147.5" cy="192.4" r="1.5"/><circle cx="207.5" cy="167" r="1.5"/><circle cx="162.5" cy="166.9" r="1.5"/><circle cx="248.5" cy="189.5" r="1.5"/><circle cx="199.7" cy="71.4" r="1.5"/><circle cx="180.7" cy="172.1" r="1.5"/><circle cx="271.4" cy="206.9" r="1.5"/><circle cx="161.9" cy="189.2" r="1.5"/><circle cx="187.5" cy="207.4" r="1.5"/><circle cx="202.1" cy="149.5" r="1.5"/><circle cx="108.5" cy="192.2" r="1.5"/><circle cx="243.9" cy="193.6" r="1.5"/><circle cx="239.5" cy="210.1" r="1.5"/><circle cx="260.5" cy="202.7" r="1.5"/><circle cx="174" cy="95.3" r="1.5"/><circle cx="177.9" cy="141.9" r="1.5"/><circle cx="162.6" cy="178.8" r="1.5"/><circle cx="199.1" cy="165.7" r="1.5"/><circle cx="136.1" cy="180.3" r="1.5"/><circle cx="224.9" cy="211.3" r="1.5"/><circle cx="201.1" cy="176.8" r="1.5"/><circle cx="227.4" cy="148.7" r="1.5"/><circle cx="211.3" cy="139.3" r="1.5"/><circle cx="186.4" cy="178.5" r="1.5"/><circle cx="187.2" cy="193" r="1.5"/><circle cx="141.7" cy="192.7" r="1.5"/><circle cx="282.4" cy="204" r="1.5"/><circle cx="258.4" cy="207.6" r="1.5"/><circle cx="117.8" cy="181" r="1.5"/><circle cx="214.4" cy="127.8" r="1.5"/><circle cx="253.4" cy="176.5" r="1.5"/><circle cx="139.4" cy="188.3" r="1.5"/><circle cx="164.2" cy="117.4" r="1.5"/><circle cx="193.8" cy="74.7" r="1.5"/><circle cx="187.9" cy="167.4" r="1.5"/><circle cx="225.6" cy="207.6" r="1.5"/><circle cx="196.3" cy="185.6" r="1.5"/><circle cx="138.8" cy="217.1" r="1.5"/><circle cx="130.3" cy="198.6" r="1.5"/><circle cx="209.5" cy="132.6" r="1.5"/><circle cx="223.9" cy="95.7" r="1.5"/><circle cx="125.8" cy="184.7" r="1.5"/><circle cx="205.7" cy="191.7" r="1.5"/><circle cx="218.8" cy="99.8" r="1.5"/><circle cx="140" cy="181.2" r="1.5"/><circle cx="151.6" cy="130.3" r="1.5"/><circle cx="260.7" cy="161.7" r="1.5"/><circle cx="120.9" cy="181.4" r="1.5"/><circle cx="232.1" cy="175" r="1.5"/><circle cx="125.1" cy="167.9" r="1.5"/><circle cx="229.8" cy="176.6" r="1.5"/><circle cx="199.7" cy="144.4" r="1.5"/><circle cx="246.8" cy="193.1" r="1.5"/><circle cx="251.4" cy="166.5" r="1.5"/><circle cx="200.6" cy="166.1" r="1.5"/><circle cx="212.7" cy="143.5" r="1.5"/><circle cx="194" cy="122.3" r="1.5"/><circle cx="223.9" cy="125.4" r="1.5"/><circle cx="139.1" cy="167.4" r="1.5"/><circle cx="245.1" cy="175.5" r="1.5"/><circle cx="231.4" cy="194.4" r="1.5"/><circle cx="212" cy="180.7" r="1.5"/><circle cx="191.4" cy="101" r="1.5"/><circle cx="257.8" cy="209.6" r="1.5"/><circle cx="296.1" cy="211.8" r="1.5"/><circle cx="241.4" cy="196.2" r="1.5"/><circle cx="196.3" cy="101.8" r="1.5"/><circle cx="190.8" cy="148.8" r="1.5"/><circle cx="292.2" cy="203.5" r="1.5"/><circle cx="247.2" cy="185.9" r="1.5"/><circle cx="242.7" cy="175.1" r="1.5"/><circle cx="211.5" cy="164.7" r="1.5"/><circle cx="157.1" cy="199.3" r="1.5"/><circle cx="241.6" cy="226.2" r="1.5"/><circle cx="232.7" cy="177.2" r="1.5"/><circle cx="220.5" cy="81.1" r="1.5"/><circle cx="158" cy="189.6" r="1.5"/><circle cx="177.2" cy="155.5" r="1.5"/><circle cx="194.4" cy="94.2" r="1.5"/><circle cx="229.4" cy="169.1" r="1.5"/><circle cx="187.2" cy="62.6" r="1.5"/><circle cx="240.2" cy="184.1" r="1.5"/><circle cx="221.4" cy="197.5" r="1.5"/><circle cx="293.2" cy="207.4" r="1.5"/><circle cx="121.4" cy="180.2" r="1.5"/><circle cx="166.2" cy="172.2" r="1.5"/><circle cx="237" cy="177.8" r="1.5"/><circle cx="181.6" cy="183.4" r="1.5"/><circle cx="186" cy="84.2" r="1.5"/><circle cx="280.2" cy="211.9" r="1.5"/><circle cx="182.7" cy="141.6" r="1.5"/><circle cx="139.4" cy="131.4" r="1.5"/><circle cx="181.8" cy="156.6" r="1.5"/><circle cx="173.8" cy="140.9" r="1.5"/><circle cx="188.3" cy="168.2" r="1.5"/><circle cx="233.6" cy="198.4" r="1.5"/><circle cx="291.5" cy="204.3" r="1.5"/><circle cx="167.1" cy="134" r="1.5"/><circle cx="254.5" cy="206.3" r="1.5"/><circle cx="251.2" cy="167" r="1.5"/><circle cx="171.1" cy="189.5" r="1.5"/><circle cx="245.2" cy="227.5" r="1.5"/><circle cx="144" cy="227.5" r="1.5"/><circle cx="103.7" cy="227.5" r="1.5"/><circle cx="279.2" cy="227.5" r="1.5"/><circle cx="291.2" cy="227.5" r="1.5"/><circle cx="228.4" cy="227.5" r="1.5"/><circle cx="288.2" cy="227.5" r="1.5"/><circle cx="241.9" cy="227.5" r="1.5"/><circle cx="220.3" cy="227.5" r="1.5"/><circle cx="180.1" cy="227.5" r="1.5"/><circle cx="166.5" cy="227.5" r="1.5"/><circle cx="195.3" cy="227.5" r="1.5"/><circle cx="137.8" cy="227.5" r="1.5"/><circle cx="182" cy="227.5" r="1.5"/><circle cx="199.1" cy="227.5" r="1.5"/><circle cx="96.7" cy="227.5" r="1.5"/><circle cx="174.6" cy="227.5" r="1.5"/><circle cx="151.2" cy="227.5" r="1.5"/><circle cx="226.3" cy="227.5" r="1.5"/><circle cx="264.5" cy="227.5" r="1.5"/><circle cx="297.9" cy="208.8" r="1.5"/><circle cx="299.4" cy="211.3" r="1.5"/><circle cx="297.9" cy="208.8" r="1.5"/><circle cx="287.4" cy="190.9" r="1.5"/><circle cx="291" cy="196.9" r="1.5"/><circle cx="304.6" cy="220.2" r="1.5"/><circle cx="193.4" cy="29.5" r="1.5"/><circle cx="190.6" cy="37.4" r="1.5"/><circle cx="195.6" cy="40.8" r="1.5"/><circle cx="197.6" cy="35.8" r="1.5"/><circle cx="188.6" cy="44.5" r="1.5"/><circle cx="201.2" cy="43.2" r="1.5"/></g>
<line x1="79.5" y1="228" x2="193" y2="28.7" stroke="#9a1616" stroke-width="2" stroke-linecap="round"/>
<line x1="193" y1="28.7" x2="310" y2="228" stroke="#1b6532" stroke-width="2" stroke-linecap="round"/>
<line x1="79.5" y1="228" x2="310" y2="228" stroke="#1c1c66" stroke-width="2" stroke-linecap="round"/>
<g font-family='"Liberation Sans", sans-serif'><text x="98.9" y="190.3" font-size="6.5" fill="#a83030" text-anchor="end">20</text><line x1="99.2" y1="188.1" x2="102.2" y2="188.1" stroke="#7a1010" stroke-width="1"/><text transform="translate(221.2,65.6) rotate(-60)" font-size="6.5" fill="#2a7a45">20</text><line x1="216.4" y1="68.6" x2="217.9" y2="66" stroke="#104a20" stroke-width="1"/><text transform="translate(264.1,234) rotate(60)" font-size="6.5" fill="#33338a">20</text><line x1="263.9" y1="228" x2="265.4" y2="230.6" stroke="#101050" stroke-width="1"/><text x="121.6" y="150.5" font-size="6.5" fill="#a83030" text-anchor="end">40</text><line x1="121.9" y1="148.3" x2="124.9" y2="148.3" stroke="#7a1010" stroke-width="1"/><text transform="translate(244.6,105.4) rotate(-60)" font-size="6.5" fill="#2a7a45">40</text><line x1="239.8" y1="108.4" x2="241.3" y2="105.8" stroke="#104a20" stroke-width="1"/><text transform="translate(218,234) rotate(60)" font-size="6.5" fill="#33338a">40</text><line x1="217.8" y1="228" x2="219.3" y2="230.6" stroke="#101050" stroke-width="1"/><text x="144.3" y="110.6" font-size="6.5" fill="#a83030" text-anchor="end">60</text><line x1="144.6" y1="108.4" x2="147.6" y2="108.4" stroke="#7a1010" stroke-width="1"/><text transform="translate(268,145.3) rotate(-60)" font-size="6.5" fill="#2a7a45">60</text><line x1="263.2" y1="148.3" x2="264.7" y2="145.7" stroke="#104a20" stroke-width="1"/><text transform="translate(171.9,234) rotate(60)" font-size="6.5" fill="#33338a">60</text><line x1="171.7" y1="228" x2="173.2" y2="230.6" stroke="#101050" stroke-width="1"/><text x="167" y="70.8" font-size="6.5" fill="#a83030" text-anchor="end">80</text><line x1="167.3" y1="68.6" x2="170.3" y2="68.6" stroke="#7a1010" stroke-width="1"/><text transform="translate(291.4,185.1) rotate(-60)" font-size="6.5" fill="#2a7a45">80</text><line x1="286.6" y1="188.1" x2="288.1" y2="185.5" stroke="#104a20" stroke-width="1"/><text transform="translate(125.8,234) rotate(60)" font-size="6.5" fill="#33338a">80</text><line x1="125.6" y1="228" x2="127.1" y2="230.6" stroke="#101050" stroke-width="1"/><text x="189.7" y="30.9" font-size="5.8" fill="#a83030" text-anchor="end">100</text><line x1="190" y1="28.7" x2="193" y2="28.7" stroke="#7a1010" stroke-width="1"/><text transform="translate(314.8,225) rotate(-60)" font-size="6.5" fill="#2a7a45">100</text><line x1="310" y1="228" x2="311.5" y2="225.4" stroke="#104a20" stroke-width="1"/><text transform="translate(79.7,234) rotate(60)" font-size="6.5" fill="#33338a">100</text><line x1="79.5" y1="228" x2="81" y2="230.6" stroke="#101050" stroke-width="1"/></g>
<clipPath id="clB"><path d="M443,234 L673,234 L558,34 Z"/></clipPath>
<path d="M443,234 L673,234 L558,34 Z" fill="#fcfcfe"/>
<g stroke="#d9d9e0" stroke-width="0.6"><line x1="454.5" y1="214" x2="661.5" y2="214"/><line x1="546.5" y1="54" x2="650" y2="234"/><line x1="466" y1="234" x2="569.5" y2="54"/><line x1="477.5" y1="174" x2="638.5" y2="174"/><line x1="523.5" y1="94" x2="604" y2="234"/><line x1="512" y1="234" x2="592.5" y2="94"/><line x1="500.5" y1="134" x2="615.5" y2="134"/><line x1="500.5" y1="134" x2="558" y2="234"/><line x1="558" y1="234" x2="615.5" y2="134"/><line x1="523.5" y1="94" x2="592.5" y2="94"/><line x1="477.5" y1="174" x2="512" y2="234"/><line x1="604" y1="234" x2="638.5" y2="174"/><line x1="546.5" y1="54" x2="569.5" y2="54"/><line x1="454.5" y1="214" x2="466" y2="234"/><line x1="650" y1="234" x2="661.5" y2="214"/></g>
<g clip-path="url(#clB)"><path d="M564,234 562,234.2 560,234.4 558,234.5 556,234.5 554,234.5 552,234.5 550,234.4 548,234.3 546,234.1 545,234 543,233.8 541,233.5 539,233.1 538,233 536,232.6 534,232.1 533,231.9 531,231.4 529.3,231 528,230.7 526,230.1 525,229.8 523,229.2 522,228.9 520,228.3 519,228 517,227.3 516,227 514,226.4 512.9,226 511,225.4 509.8,225 508,224.5 506.4,224 505,223.6 503,223.2 501.9,223 500,222.8 498,222.7 496,222.8 494.6,223 493,223.3 491,223.8 490,224.1 488,224.7 487,225.1 485,225.8 484,226.1 482,226.9 481,227.2 479,228 478,228.3 476,229 475,229.3 473,229.9 472,230.2 470,230.7 468.4,231 467,231.3 465,231.6 463,231.9 461.1,232 460,232.1 458,232.1 456.4,232 455,231.9 453,231.6 451,231.2 450,230.9 448,230.3 447,229.9 445.3,229 444,228.2 443,227.5 442,226.7 441,225.7 440,224.5 439,223 438.5,222 438,220.8 437.5,219 437.2,217 437.1,215 437.4,213 437.9,211 438.2,210 439,208.1 439.5,207 440.1,206 441,204.6 442,203.3 443,202 443.9,201 444.9,200 445.9,199 447,198 448,197.2 449,196.4 450,195.6 451,194.9 452.3,194 453.9,193 455,192.3 456,191.8 457.4,191 459,190.2 460,189.7 461.6,189 463,188.4 464.1,188 466,187.3 467,187 469,186.3 470.1,186 472,185.5 473.8,185 475,184.7 477,184.2 478,184 480,183.5 481.5,183 483,182.4 484,182 485.6,181 486.6,180 487.4,179 488,178 488.7,176 489,175 489.3,173 489.6,171 489.8,169 490,167 490.1,166 490.3,164 490.6,162 490.9,160 491.1,159 491.5,157 492,155.2 492.3,154 492.9,152 493.3,151 494,149 494.4,148 495,146.5 495.6,145 496.1,144 497,142.2 497.6,141 498.2,140 499,138.6 500,137 500.6,136 501.3,135 502,134 503,132.7 504,131.3 505,130.1 505.9,129 506.8,128 507.7,127 508.7,126 509.7,125 510.7,124 511.8,123 512.9,122 514,121.1 515,120.2 516,119.4 517,118.7 518,118 519.4,117 520.9,116 522,115.3 523,114.7 524.3,114 526,113.1 527,112.5 528.1,112 530,111.2 531,110.7 532.9,110 534,109.6 535.7,109 537,108.6 539,108 540,107.8 542,107.3 543.5,107 545,106.7 547,106.4 549,106.2 551,106.1 552,106 554,105.9 556,105.9 558,106 559,106.1 561,106.2 563,106.4 565,106.7 566.5,107 568,107.3 570,107.8 571,108 573,108.6 574.3,109 576,109.6 577.1,110 579,110.7 580,111.2 581.9,112 583,112.5 584,113.1 585.7,114 587,114.7 588,115.3 589.1,116 590.6,117 592,118 593,118.7 594,119.4 595,120.2 596,121.1 597.1,122 598.2,123 599.3,124 600.3,125 601.3,126 602.3,127 603.2,128 604.1,129 605,130.1 606,131.3 607,132.7 608,134 608.7,135 609.4,136 610,137 611,138.6 611.8,140 612.4,141 613,142.2 613.9,144 614.4,145 615,146.5 615.6,148 616,149 616.7,151 617.1,152 617.7,154 618,155.2 618.5,157 618.9,159 619.1,160 619.4,162 619.7,164 619.9,166 620,167 620.3,169 620.5,171 620.8,173 621,174 621.5,176 622,177.8 622.4,179 623,180.8 623.5,182 624,183.6 624.5,185 625,186.6 625.4,188 625.9,190 626,191 626.3,193 626.4,195 626.4,197 626.2,199 626,200.4 625.7,202 625,204 624.6,205 624,206.3 623,208 622.3,209 621.5,210 620.7,211 619.7,212 618.5,213 617.3,214 616,215 615,215.6 614,216.3 612.8,217 611.1,218 610,218.6 609,219.1 607.3,220 606,220.7 605,221.1 603.2,222 602,222.5 600.9,223 599,223.8 598,224.3 596.3,225 595,225.5 593.8,226 592,226.7 591,227.1 589,227.8 588,228.2 586,228.9 585,229.2 583,229.9 582,230.2 580,230.8 579,231.1 577,231.6 575.3,232 574,232.3 572,232.7 570.7,233 569,233.3 567,233.6 565,233.9 564,234ZM660,233 658,233.3 656,233.3 654,233.1 653,232.9 651,232.4 650,231.9 648.2,231 647,230.1 646,229.2 645.1,228 644.5,227 644,225.2 643.9,224 644.1,223 644.9,221 645.6,220 646.6,219 648,218 649,217.5 650.1,217 652,216.4 654,216.1 655,216 657,215.9 658,216 660,216.3 662,216.8 663,217.2 664.6,218 666,219 667,219.8 668,221 668.6,222 669,223.2 669.2,225 669,226.3 668.3,228 667.6,229 666.6,230 665.3,231 664,231.7 663,232.2 661,232.8 660,233Z" fill="#e6e6f1" fill-rule="evenodd"/><path d="M562,229 560,229.2 558,229.3 556,229.4 554,229.4 552,229.4 550,229.3 548,229.1 546.7,229 545,228.8 543,228.6 541,228.2 539.7,228 538,227.7 536,227.2 535,227 533,226.5 531.2,226 530,225.7 528,225.1 527,224.7 525,224.1 524,223.7 522,223 521,222.6 519.4,222 518,221.4 517,221 515,220.2 514,219.7 512.4,219 511,218.4 510,217.9 508,217 507,216.6 505.5,216 504,215.5 502.2,215 501,214.8 499,214.8 497.4,215 496,215.3 494.2,216 493,216.5 492,217 490,218 489,218.5 488,219 486.1,220 485,220.6 484,221.1 482.2,222 481,222.6 480,223 478,223.9 477,224.3 475.1,225 474,225.4 472.1,226 471,226.3 469,226.8 468,227 466,227.4 464,227.7 462,227.8 460,227.9 458,227.8 456,227.5 454,227.1 453,226.9 451,226.1 450,225.7 448.8,225 447.4,224 446.3,223 445.4,222 444.7,221 444,219.6 443.4,218 443.1,216 443.1,214 443.4,212 444,210 444.4,209 445,207.8 446,206.1 446.8,205 447.5,204 448.4,203 449.4,202 450.4,201 451.5,200 452.8,199 454,198.1 455,197.4 456,196.7 457.2,196 459,195 460,194.5 461.1,194 463,193.2 464,192.8 466,192.1 467,191.8 469,191.3 470.1,191 472,190.6 474,190.3 476,190.1 477,190 479,189.9 481,189.8 483,189.8 485,189.9 487,189.9 489,189.8 491,189.4 492,189 493.4,188 494.3,187 495,185.9 495.8,184 496.1,183 496.5,181 496.8,179 497,177 497,176 497.1,174 497.2,172 497.3,170 497.3,168 497.5,166 497.7,164 497.9,162 498.1,161 498.4,159 498.9,157 499.1,156 499.6,154 500,152.8 500.6,151 501,149.9 501.7,148 502.1,147 503,145.1 503.5,144 504,143 505,141.3 505.7,140 506.3,139 507,138 508,136.5 509,135.1 509.8,134 510.6,133 511.5,132 512.3,131 513.2,130 514.2,129 515.2,128 516.2,127 517.3,126 518.5,125 519.7,124 521,123 522,122.3 523,121.6 524,120.9 525.4,120 527,119 528,118.5 529,117.9 530.9,117 532,116.5 533.1,116 535,115.2 536,114.9 538,114.2 539,113.9 541,113.3 542.2,113 544,112.6 546,112.2 547.6,112 549,111.8 551,111.6 553,111.5 555,111.5 557,111.5 559,111.6 561,111.8 562.4,112 564,112.2 566,112.6 567.8,113 569,113.3 571,113.9 572,114.2 574,114.9 575,115.2 576.9,116 578,116.5 579.1,117 581,117.9 582,118.5 583,119 584.6,120 586,120.9 587,121.6 588,122.3 589,123 590.3,124 591.5,125 592.7,126 593.8,127 594.8,128 595.8,129 596.8,130 597.7,131 598.5,132 599.4,133 600.2,134 601,135.1 602,136.5 603,138 603.7,139 604.3,140 605,141.3 606,143 606.5,144 607,145.1 607.9,147 608.3,148 609,149.9 609.4,151 610,152.8 610.4,154 610.9,156 611.1,157 611.6,159 611.9,161 612.1,162 612.4,164 612.6,166 612.8,168 613,169.4 613.2,171 613.6,173 614,174.7 614.4,176 615,177.7 615.5,179 616,180.1 616.8,182 617.3,183 618,184.8 618.5,186 619,187.6 619.4,189 619.7,191 619.9,193 619.8,195 619.5,197 619,198.9 618.6,200 618,201.3 617,203 616.3,204 615.6,205 614.7,206 613.8,207 612.8,208 611.6,209 610.4,210 609,211 608,211.7 607,212.4 606,213 604.4,214 603,214.8 602,215.4 600.8,216 599,217 598,217.5 597,218 595,219 594,219.5 592.8,220 591,220.8 590,221.3 588.3,222 587,222.6 585.9,223 584,223.7 583,224.1 581,224.8 580,225.1 578,225.8 577,226.1 575,226.6 573.6,227 572,227.4 570,227.8 569,228 567,228.4 565,228.7 563,228.9 562,229ZM661,230.2 659,230.7 657,230.9 655,230.8 653,230.3 652,229.9 650.4,229 649.3,228 648.5,227 648,225.5 648,224 648.2,223 649,221.8 650,220.8 651.2,220 653,219.2 654,219 656,218.7 658,218.7 659.5,219 661,219.5 662.2,220 663.7,221 664.6,222 665.2,223 665.7,225 665.1,227 664.4,228 663.3,229 662,229.8 661,230.2Z" fill="#d8d4e7" fill-rule="evenodd"/><path d="M556,222 554,222 552.2,222 551,222 549,221.8 547,221.6 545,221.4 543,221 542,220.8 540,220.4 538.2,220 537,219.7 535,219.1 534,218.8 532,218.1 531,217.8 529,217 528,216.6 526.6,216 525,215.3 524,214.8 522.4,214 521,213.2 520,212.7 518.9,212 517.4,211 516,210 515,209.2 514,208.4 513,207.5 512,206.5 511,205.5 510,204.3 509.1,203 508.4,202 507.9,201 507,199.1 506.6,198 506,196 505.8,195 505.6,193 505.5,191 505.5,189 505.5,187 505.6,185 505.7,183 505.8,181 505.9,179 506,177 506,175 506,173 506,171.2 506,170 506.1,168 506.2,166 506.4,164 506.7,162 507,160.2 507.2,159 507.7,157 508,155.8 508.5,154 509,152.6 509.6,151 510,150 510.9,148 511.4,147 512,145.7 513,144 513.5,143 514.2,142 515,140.8 516,139.3 517,138 517.8,137 518.7,136 519.6,135 520.5,134 521.5,133 522.6,132 523.7,131 524.9,130 526,129.2 527,128.4 528,127.7 529.1,127 530.7,126 532,125.2 533,124.7 534.4,124 536,123.3 537,122.8 539,122.1 540,121.7 542,121.1 543,120.8 545,120.3 546.8,120 548,119.8 550,119.5 552,119.4 554,119.3 556,119.3 558,119.4 560,119.5 562,119.8 563.2,120 565,120.3 567,120.8 568,121.1 570,121.7 571,122.1 573,122.8 574,123.3 575.6,124 577,124.7 578,125.2 579.3,126 580.9,127 582,127.7 583,128.4 584,129.2 585.1,130 586.3,131 587.4,132 588.5,133 589.5,134 590.4,135 591.3,136 592.2,137 593,138 594,139.3 595,140.8 595.8,142 596.5,143 597,144 598,145.7 598.6,147 599.1,148 600,150 600.4,151 601,152.6 601.5,154 602,155.8 602.3,157 602.8,159 603,160.1 603.3,162 603.6,164 603.9,166 604,167.1 604.2,169 604.5,171 604.9,173 605.1,174 605.7,176 606,177 606.9,179 607.4,180 608,181.2 609,183 609.5,184 610,185.1 610.8,187 611.2,188 611.7,190 611.9,192 611.8,194 611.4,196 611,197.2 610.1,199 609.4,200 608.7,201 607.8,202 606.8,203 605.7,204 604.4,205 603,206 602,206.6 601,207.2 599.6,208 598,208.9 597,209.4 595.7,210 594,210.8 593,211.3 591.4,212 590,212.6 589,213.1 587,213.9 586,214.4 584.5,215 583,215.6 582,216 580,216.8 579,217.2 577,218 576,218.3 574,219 573,219.3 571,219.8 570,220.1 568,220.6 566,221 565,221.1 563,221.5 561,221.7 559,221.9 557,222 556,222ZM467,220.1 465,220.3 463,220.4 461,220.2 459.9,220 458,219.4 457,218.9 455.7,218 454.7,217 454,215.9 453.4,214 453.4,212 453.9,210 454.3,209 455,207.8 456,206.4 457,205.3 458,204.4 459,203.5 460,202.8 461.2,202 463,201 464,200.6 465.4,200 467,199.5 468.8,199 470,198.8 472,198.5 474,198.5 476,198.7 477.7,199 479,199.4 480.4,200 482,201 483,202 483.7,203 484.2,204 484.6,206 484.2,208 483.9,209 483,210.6 482,211.9 481,213 480,213.9 479,214.8 478,215.5 477,216.2 475.6,217 474,217.8 473,218.3 471.1,219 470,219.4 468,219.9 467,220.1Z" fill="#c6b4d8" fill-rule="evenodd"/><path d="M559,216.1 557,216.2 555,216.3 553,216.3 551,216.2 549,216 548,215.9 546,215.7 544,215.3 542.4,215 541,214.7 539,214.2 538,213.9 536,213.3 535,213 533,212.3 532,211.9 530,211.1 529,210.7 527.5,210 526,209.3 525,208.7 523.7,208 522.1,207 521,206.3 520,205.5 519,204.7 518,203.8 517,202.8 516,201.7 515,200.4 514.1,199 513.5,198 513,196.9 512.3,195 512,193.9 511.6,192 511.4,190 511.4,188 511.4,186 511.5,184 511.6,182 511.8,180 511.8,178 511.9,176 511.9,174 511.9,172 512,170 512,169 512.1,167 512.3,165 512.5,163 512.9,161 513.1,160 513.5,158 514,156.4 514.4,155 515,153.4 515.5,152 516,150.9 516.9,149 517.4,148 518,147 519,145.3 519.8,144 520.5,143 521.3,142 522.1,141 523,139.9 524,138.8 525,137.7 526,136.7 527,135.8 528,134.9 529.2,134 530.5,133 531.9,132 533,131.3 534,130.7 535.3,130 537,129.1 538,128.7 539.6,128 541,127.5 542.4,127 544,126.5 546,126 547,125.8 549,125.5 551,125.2 553,125.1 555,125 557,125.1 559,125.2 561,125.5 563,125.8 564,126 566,126.5 567.6,127 569,127.5 570.4,128 572,128.7 573,129.1 574.7,130 576,130.7 577,131.3 578.1,132 579.5,133 580.8,134 582,134.9 583,135.8 584,136.7 585,137.7 586,138.8 587,139.9 587.9,141 588.7,142 589.5,143 590.2,144 591,145.3 592,147 592.6,148 593.1,149 594,150.9 594.5,152 595,153.4 595.6,155 596,156.4 596.5,158 596.9,160 597.1,161 597.5,163 597.8,165 598,167 598.1,168 598.3,170 598.6,172 599,174 599.2,175 599.8,177 600.2,178 601,179.8 601.6,181 602.2,182 603,183.5 603.8,185 604.3,186 605,187.6 605.5,189 605.9,191 605.9,193 605.5,195 605,196.2 604,198 603.2,199 602.3,200 601.2,201 600,201.9 599,202.6 598,203.2 596.7,204 595,204.9 594,205.4 592.5,206 591,206.7 590,207.1 588,207.8 587,208.2 585,208.9 584,209.3 582.1,210 581,210.4 579.3,211 578,211.5 576.4,212 575,212.5 573.4,213 572,213.4 570.1,214 569,214.3 567,214.8 566,215 564,215.4 562,215.7 560,216 559,216.1Z" fill="#c88cc6" fill-rule="evenodd"/><path d="M560,209.1 558,209.3 556,209.4 554,209.5 552,209.4 550,209.3 548,209.2 546.7,209 545,208.8 543,208.4 541,208 540,207.8 538,207.3 536.9,207 535,206.4 533.8,206 532,205.3 531,204.9 529,204 528,203.5 527,203 525.5,202 524.1,201 523,200.1 522,199.1 521.1,198 520.3,197 519.7,196 519,194.6 518.4,193 518,191.1 517.9,190 517.7,188 517.8,186 517.9,184 518,182.4 518.1,181 518.2,179 518.3,177 518.3,175 518.4,173 518.4,171 518.5,169 518.6,167 518.8,165 519,163.7 519.3,162 519.7,160 520,158.9 520.6,157 521,155.8 521.7,154 522.2,153 523,151.3 523.7,150 524.3,149 525,147.9 526,146.5 527,145.2 528,144 528.9,143 529.8,142 530.9,141 532,140 533,139.2 534,138.4 535,137.7 536.1,137 537.8,136 539,135.4 540,134.9 542,134 543,133.6 544.9,133 546,132.7 548,132.2 549.2,132 551,131.7 553,131.6 555,131.5 557,131.6 559,131.7 560.8,132 562,132.2 564,132.7 565.1,133 567,133.6 568,134 570,134.9 571,135.4 572.2,136 573.9,137 575,137.7 576,138.4 577,139.2 578,140 579.1,141 580.2,142 581.1,143 582,144 583,145.2 584,146.5 585,147.9 585.7,149 586.3,150 587,151.3 587.8,153 588.3,154 589,155.8 589.4,157 590,158.9 590.3,160 590.7,162 591,163.5 591.2,165 591.5,167 591.7,169 591.8,171 592,172.6 592.2,174 592.6,176 593,177.7 593.4,179 594,180.5 594.7,182 595.2,183 596,184.5 596.8,186 597.3,187 598,189 598.2,190 598.3,192 598,193.6 597.4,195 596.8,196 595.9,197 594.9,198 593.5,199 592,199.9 591,200.5 589.9,201 588,201.8 587,202.2 585,202.9 584,203.2 582,203.8 581,204.1 579,204.7 578,205 576,205.6 574.4,206 573,206.4 571,206.9 570,207.2 568,207.7 566.4,208 565,208.3 563,208.7 561,209 560,209.1Z" fill="#d43aa0" fill-rule="evenodd"/><path d="M563,201 561,201.3 559,201.6 557,201.7 555,201.8 553,201.9 551,201.9 549,201.8 547,201.7 545,201.5 543,201.2 541.7,201 540,200.7 538,200.2 537,199.9 535,199.2 534,198.8 532.3,198 531,197.2 530,196.5 529,195.7 528,194.6 527,193.2 526.4,192 526,191 525.5,189 525.3,187 525.3,185 525.3,183 525.4,181 525.5,179 525.5,177 525.5,175 525.5,173 525.5,171 525.6,169 525.7,167 525.9,165 526.1,164 526.5,162 527,160.2 527.4,159 528,157.4 528.6,156 529.1,155 530,153.3 530.8,152 531.5,151 532.2,150 533.1,149 534,147.9 535,146.9 536,146 537.2,145 538.5,144 540,143 541,142.4 542,141.9 543.9,141 545,140.6 546.6,140 548,139.6 550,139.2 551.1,139 553,138.8 555,138.7 557,138.8 558.9,139 560,139.2 562,139.6 563.4,140 565,140.6 566.1,141 568,141.9 569,142.4 570,143 571.5,144 572.8,145 574,146 575,146.9 576,147.9 576.9,149 577.8,150 578.5,151 579.2,152 580,153.3 580.9,155 581.4,156 582,157.4 582.6,159 583,160.2 583.5,162 583.9,164 584.1,165 584.3,167 584.5,169 584.6,171 584.7,173 584.8,175 584.9,177 585,178 585.3,180 585.8,182 586,183 586.6,185 587,186.6 587.3,188 587.4,190 587,191.5 586.1,193 585.2,194 584,194.9 583,195.5 582,196 580,196.8 579,197.2 577,197.8 576,198.1 574,198.7 572.7,199 571,199.4 569,199.9 568,200.1 566,200.5 564,200.8 563,201Z" fill="#e4166e" fill-rule="evenodd"/><path d="M556,194 554,194.1 552,194.2 550,194.1 548,194 547,193.9 545,193.6 543,193.2 542,192.9 540,192.1 539,191.6 538,190.9 536.9,190 536,189 535,187.2 534.5,186 534,184 533.8,183 533.5,181 533.3,179 533.1,177 533,176 532.8,174 532.7,172 532.7,170 532.8,168 533,166.3 533.2,165 533.7,163 534,161.9 534.7,160 535.1,159 536,157.3 536.8,156 537.5,155 538.3,154 539.2,153 540.2,152 541.4,151 542.7,150 544,149.2 545,148.6 546.2,148 548,147.3 549,147 551,146.5 553,146.2 555,146.1 557,146.2 559,146.5 561,147 562,147.3 563.8,148 565,148.6 566,149.2 567.3,150 568.6,151 569.8,152 570.8,153 571.7,154 572.5,155 573.2,156 574,157.4 574.9,159 575.3,160 576,161.9 576.3,163 576.8,165 577,166.3 577.2,168 577.3,170 577.3,172 577.2,174 577,175.8 576.9,177 576.6,179 576.3,181 576,182.2 575.5,184 575,185.3 574,187 573.2,188 572.1,189 571,189.8 570,190.4 568.8,191 567,191.7 566,192.1 564,192.7 562.7,193 561,193.3 559,193.7 557,193.9 556,194Z" fill="#f60c2c" fill-rule="evenodd"/><path d="M558,182.2 556,182.6 554,182.7 552,182.5 550.3,182 549,181.4 548,180.8 546.9,180 546,179 545,177.7 544.1,176 543.7,175 543.1,173 542.9,172 542.8,170 542.9,168 543,167 543.5,165 544,163.8 545,162 545.7,161 546.6,160 547.8,159 549,158.1 550,157.6 551.6,157 553,156.7 555,156.5 557,156.7 558.4,157 560,157.6 561,158.1 562.2,159 563.4,160 564.3,161 565,162 566,163.8 566.5,165 567,167 567.1,168 567.2,170 567,171.7 566.7,173 566.1,175 565.6,176 565,177.1 564,178.5 563,179.5 562,180.3 560.9,181 559,181.9 558,182.2Z" fill="#fe081c" fill-rule="evenodd"/></g>
<g stroke="#ffffff" stroke-width="0.6" opacity="0.35"><line x1="454.5" y1="214" x2="661.5" y2="214"/><line x1="546.5" y1="54" x2="650" y2="234"/><line x1="466" y1="234" x2="569.5" y2="54"/><line x1="466" y1="194" x2="650" y2="194"/><line x1="535" y1="74" x2="627" y2="234"/><line x1="489" y1="234" x2="581" y2="74"/><line x1="477.5" y1="174" x2="638.5" y2="174"/><line x1="523.5" y1="94" x2="604" y2="234"/><line x1="512" y1="234" x2="592.5" y2="94"/><line x1="489" y1="154" x2="627" y2="154"/><line x1="512" y1="114" x2="581" y2="234"/><line x1="535" y1="234" x2="604" y2="114"/><line x1="500.5" y1="134" x2="615.5" y2="134"/><line x1="500.5" y1="134" x2="558" y2="234"/><line x1="558" y1="234" x2="615.5" y2="134"/><line x1="512" y1="114" x2="604" y2="114"/><line x1="489" y1="154" x2="535" y2="234"/><line x1="581" y1="234" x2="627" y2="154"/><line x1="523.5" y1="94" x2="592.5" y2="94"/><line x1="477.5" y1="174" x2="512" y2="234"/><line x1="604" y1="234" x2="638.5" y2="174"/><line x1="535" y1="74" x2="581" y2="74"/><line x1="466" y1="194" x2="489" y2="234"/><line x1="627" y1="234" x2="650" y2="194"/><line x1="546.5" y1="54" x2="569.5" y2="54"/><line x1="454.5" y1="214" x2="466" y2="234"/><line x1="650" y1="234" x2="661.5" y2="214"/></g>
<g stroke-width="1.05" stroke-dasharray="4.4,1.2,1.2,1.2"><line x1="466" y1="194" x2="650" y2="194" stroke="#7e1414"/><line x1="535" y1="74" x2="627" y2="234" stroke="#262670"/><line x1="489" y1="234" x2="581" y2="74" stroke="#1c6032"/><line x1="489" y1="154" x2="627" y2="154" stroke="#7e1414"/><line x1="512" y1="114" x2="581" y2="234" stroke="#262670"/><line x1="535" y1="234" x2="604" y2="114" stroke="#1c6032"/><line x1="512" y1="114" x2="604" y2="114" stroke="#7e1414"/><line x1="489" y1="154" x2="535" y2="234" stroke="#262670"/><line x1="581" y1="234" x2="627" y2="154" stroke="#1c6032"/><line x1="535" y1="74" x2="581" y2="74" stroke="#7e1414"/><line x1="466" y1="194" x2="489" y2="234" stroke="#262670"/><line x1="627" y1="234" x2="650" y2="194" stroke="#1c6032"/></g>
<g fill="#111"><circle cx="565.1" cy="167.8" r="1.5"/><circle cx="587.1" cy="173.1" r="1.5"/><circle cx="570.3" cy="153.6" r="1.5"/><circle cx="565.1" cy="150.7" r="1.5"/><circle cx="565.8" cy="164.3" r="1.5"/><circle cx="533.3" cy="179.3" r="1.5"/><circle cx="561.4" cy="195.7" r="1.5"/><circle cx="554" cy="196.1" r="1.5"/><circle cx="561.9" cy="154.5" r="1.5"/><circle cx="579.1" cy="169.6" r="1.5"/><circle cx="556.1" cy="168.9" r="1.5"/><circle cx="575.1" cy="187.4" r="1.5"/><circle cx="577.7" cy="162.9" r="1.5"/><circle cx="559.8" cy="168.7" r="1.5"/><circle cx="578.7" cy="152.6" r="1.5"/><circle cx="543.8" cy="158.2" r="1.5"/><circle cx="552.7" cy="159.6" r="1.5"/><circle cx="543.7" cy="149.5" r="1.5"/><circle cx="543.9" cy="167.9" r="1.5"/><circle cx="566.2" cy="171.1" r="1.5"/><circle cx="561.4" cy="161.7" r="1.5"/><circle cx="566.7" cy="176.4" r="1.5"/><circle cx="534.1" cy="168.4" r="1.5"/><circle cx="576.5" cy="151" r="1.5"/><circle cx="584.8" cy="165.3" r="1.5"/><circle cx="548.2" cy="173.5" r="1.5"/><circle cx="567" cy="167.9" r="1.5"/><circle cx="546.9" cy="162.2" r="1.5"/><circle cx="560.2" cy="161.5" r="1.5"/><circle cx="546.3" cy="176.3" r="1.5"/><circle cx="570.6" cy="153.4" r="1.5"/><circle cx="546.3" cy="160.6" r="1.5"/><circle cx="568.8" cy="196.7" r="1.5"/><circle cx="558.4" cy="145.3" r="1.5"/><circle cx="577.3" cy="170.6" r="1.5"/><circle cx="565.8" cy="191.4" r="1.5"/><circle cx="551.3" cy="190.5" r="1.5"/><circle cx="535.3" cy="176.4" r="1.5"/><circle cx="580.3" cy="157.9" r="1.5"/><circle cx="532.1" cy="185.1" r="1.5"/><circle cx="573.1" cy="150.4" r="1.5"/><circle cx="527.8" cy="161.6" r="1.5"/><circle cx="549.4" cy="171.3" r="1.5"/><circle cx="552.7" cy="194.6" r="1.5"/><circle cx="543.3" cy="183.1" r="1.5"/><circle cx="547.8" cy="176.8" r="1.5"/><circle cx="559.2" cy="173.2" r="1.5"/><circle cx="549.2" cy="158.1" r="1.5"/><circle cx="526.6" cy="179.2" r="1.5"/><circle cx="536.7" cy="151.3" r="1.5"/><circle cx="558.4" cy="140.1" r="1.5"/><circle cx="571" cy="177.7" r="1.5"/><circle cx="573.8" cy="165.2" r="1.5"/><circle cx="565.3" cy="167.8" r="1.5"/><circle cx="583.5" cy="181.9" r="1.5"/><circle cx="539.1" cy="181.5" r="1.5"/><circle cx="566.2" cy="166.7" r="1.5"/><circle cx="572.4" cy="167.7" r="1.5"/><circle cx="556.2" cy="182.6" r="1.5"/><circle cx="537.3" cy="168.8" r="1.5"/><circle cx="559" cy="168.4" r="1.5"/><circle cx="564.3" cy="173.3" r="1.5"/><circle cx="534.8" cy="154.4" r="1.5"/><circle cx="533.4" cy="173.9" r="1.5"/><circle cx="554.7" cy="169.4" r="1.5"/><circle cx="556.7" cy="202.9" r="1.5"/><circle cx="541" cy="197.9" r="1.5"/><circle cx="544.8" cy="171.5" r="1.5"/><circle cx="567" cy="171.2" r="1.5"/><circle cx="548.2" cy="187.2" r="1.5"/><circle cx="536.1" cy="177.8" r="1.5"/><circle cx="553.1" cy="171.5" r="1.5"/><circle cx="552.7" cy="202" r="1.5"/><circle cx="581.4" cy="175.4" r="1.5"/><circle cx="531.2" cy="174.7" r="1.5"/><circle cx="548.1" cy="184.9" r="1.5"/><circle cx="526.2" cy="167.8" r="1.5"/><circle cx="553.3" cy="176.1" r="1.5"/><circle cx="584.5" cy="178" r="1.5"/><circle cx="553.2" cy="177.7" r="1.5"/><circle cx="532.6" cy="154.8" r="1.5"/><circle cx="549.1" cy="166" r="1.5"/><circle cx="545.5" cy="178.1" r="1.5"/><circle cx="587.1" cy="174.2" r="1.5"/><circle cx="548.4" cy="173" r="1.5"/><circle cx="579.7" cy="150" r="1.5"/><circle cx="560.9" cy="159.8" r="1.5"/><circle cx="563.4" cy="190" r="1.5"/><circle cx="530.7" cy="156.4" r="1.5"/><circle cx="585.3" cy="164.9" r="1.5"/><circle cx="544" cy="189.4" r="1.5"/><circle cx="570.4" cy="185.2" r="1.5"/><circle cx="562.2" cy="174" r="1.5"/><circle cx="566" cy="180.6" r="1.5"/><circle cx="546.8" cy="194.3" r="1.5"/><circle cx="562.1" cy="174.2" r="1.5"/><circle cx="542.5" cy="150.8" r="1.5"/><circle cx="549.7" cy="146.4" r="1.5"/><circle cx="545" cy="153" r="1.5"/><circle cx="555.7" cy="165.5" r="1.5"/><circle cx="491.7" cy="182.3" r="1.5"/><circle cx="606.3" cy="202.5" r="1.5"/><circle cx="552.1" cy="155.1" r="1.5"/><circle cx="528.6" cy="127.8" r="1.5"/><circle cx="537.6" cy="200.9" r="1.5"/><circle cx="480.2" cy="199.6" r="1.5"/><circle cx="499.7" cy="171.9" r="1.5"/><circle cx="593.6" cy="159.9" r="1.5"/><circle cx="566.8" cy="202" r="1.5"/><circle cx="572.3" cy="131.9" r="1.5"/><circle cx="556.1" cy="179.2" r="1.5"/><circle cx="517.1" cy="208.6" r="1.5"/><circle cx="561.4" cy="113.3" r="1.5"/><circle cx="570.4" cy="123.2" r="1.5"/><circle cx="590.2" cy="224.6" r="1.5"/><circle cx="595" cy="195" r="1.5"/><circle cx="545.6" cy="160.3" r="1.5"/><circle cx="562.3" cy="122.3" r="1.5"/><circle cx="585.9" cy="150.4" r="1.5"/><circle cx="656.4" cy="223.3" r="1.5"/><circle cx="546.9" cy="190.3" r="1.5"/><circle cx="495.9" cy="206.4" r="1.5"/><circle cx="530.6" cy="194.4" r="1.5"/><circle cx="500.1" cy="158.6" r="1.5"/><circle cx="504.9" cy="145.8" r="1.5"/><circle cx="513.8" cy="209.7" r="1.5"/><circle cx="602.9" cy="196.2" r="1.5"/><circle cx="492.9" cy="217.2" r="1.5"/><circle cx="547.9" cy="135.2" r="1.5"/><circle cx="465" cy="197.4" r="1.5"/><circle cx="543.1" cy="176.1" r="1.5"/><circle cx="544" cy="199" r="1.5"/><circle cx="578.5" cy="150.4" r="1.5"/><circle cx="549.9" cy="106.1" r="1.5"/><circle cx="570.9" cy="116.5" r="1.5"/><circle cx="565.6" cy="171.4" r="1.5"/><circle cx="526.8" cy="213.1" r="1.5"/><circle cx="557.5" cy="196.9" r="1.5"/><circle cx="642" cy="212.6" r="1.5"/><circle cx="463.5" cy="211.4" r="1.5"/><circle cx="596.7" cy="164.7" r="1.5"/><circle cx="492.3" cy="217" r="1.5"/><circle cx="577.4" cy="107.8" r="1.5"/><circle cx="574.2" cy="178.8" r="1.5"/><circle cx="555.6" cy="95.4" r="1.5"/><circle cx="565.5" cy="159.7" r="1.5"/><circle cx="513" cy="209.5" r="1.5"/><circle cx="532.7" cy="136.9" r="1.5"/><circle cx="551.2" cy="118.8" r="1.5"/><circle cx="545.9" cy="132.9" r="1.5"/><circle cx="635.3" cy="177.7" r="1.5"/><circle cx="531.6" cy="187.3" r="1.5"/><circle cx="568.6" cy="203.2" r="1.5"/><circle cx="579.8" cy="223.6" r="1.5"/><circle cx="602" cy="228.4" r="1.5"/><circle cx="555.9" cy="121.5" r="1.5"/><circle cx="571.6" cy="118.9" r="1.5"/><circle cx="524.1" cy="179.3" r="1.5"/><circle cx="602.1" cy="175.2" r="1.5"/><circle cx="567.6" cy="95.4" r="1.5"/><circle cx="523.2" cy="156.2" r="1.5"/><circle cx="559" cy="217.1" r="1.5"/><circle cx="494.6" cy="217" r="1.5"/><circle cx="611" cy="154.7" r="1.5"/><circle cx="590.8" cy="121.7" r="1.5"/><circle cx="531.8" cy="182.9" r="1.5"/><circle cx="527.2" cy="215.8" r="1.5"/><circle cx="498.5" cy="211.3" r="1.5"/><circle cx="519" cy="210.4" r="1.5"/><circle cx="539.9" cy="134.6" r="1.5"/><circle cx="485.7" cy="221.3" r="1.5"/><circle cx="512.5" cy="195.2" r="1.5"/><circle cx="555.6" cy="206.4" r="1.5"/><circle cx="543.3" cy="187.1" r="1.5"/><circle cx="539.6" cy="157.7" r="1.5"/><circle cx="570.6" cy="146.3" r="1.5"/><circle cx="591.6" cy="186.3" r="1.5"/><circle cx="578" cy="185.1" r="1.5"/><circle cx="531.2" cy="188.6" r="1.5"/><circle cx="550.2" cy="196.4" r="1.5"/><circle cx="489.3" cy="215.2" r="1.5"/><circle cx="550.7" cy="215.6" r="1.5"/><circle cx="535.1" cy="177.6" r="1.5"/><circle cx="500" cy="142" r="1.5"/><circle cx="513.5" cy="195.5" r="1.5"/><circle cx="555.6" cy="222.9" r="1.5"/><circle cx="546.2" cy="229.4" r="1.5"/><circle cx="554.6" cy="179.8" r="1.5"/><circle cx="481.2" cy="202.8" r="1.5"/><circle cx="610.5" cy="188.2" r="1.5"/><circle cx="614.2" cy="198.1" r="1.5"/><circle cx="616.8" cy="224.2" r="1.5"/><circle cx="496.5" cy="182.3" r="1.5"/><circle cx="592.9" cy="169.8" r="1.5"/><circle cx="561.9" cy="159.9" r="1.5"/><circle cx="527.9" cy="214.7" r="1.5"/><circle cx="529.8" cy="180.6" r="1.5"/><circle cx="561.9" cy="136.6" r="1.5"/><circle cx="559" cy="206.7" r="1.5"/><circle cx="567" cy="175.4" r="1.5"/><circle cx="660.7" cy="225.6" r="1.5"/><circle cx="597.3" cy="210" r="1.5"/><circle cx="471.5" cy="195.9" r="1.5"/><circle cx="591.4" cy="141.2" r="1.5"/><circle cx="500.1" cy="216.5" r="1.5"/><circle cx="555.2" cy="173.7" r="1.5"/><circle cx="602.5" cy="158.7" r="1.5"/><circle cx="453.5" cy="218.5" r="1.5"/><circle cx="505.7" cy="159.9" r="1.5"/><circle cx="533.5" cy="174.8" r="1.5"/><circle cx="628.6" cy="216.6" r="1.5"/><circle cx="553.8" cy="213.2" r="1.5"/><circle cx="571.1" cy="152.5" r="1.5"/><circle cx="581.7" cy="188.2" r="1.5"/><circle cx="566.1" cy="141.9" r="1.5"/><circle cx="522" cy="157.7" r="1.5"/><circle cx="652" cy="227.9" r="1.5"/><circle cx="537.5" cy="182.8" r="1.5"/><circle cx="488.4" cy="227.9" r="1.5"/><circle cx="503.7" cy="136" r="1.5"/><circle cx="599.8" cy="152.7" r="1.5"/><circle cx="535.4" cy="140.7" r="1.5"/><circle cx="500.4" cy="191.2" r="1.5"/><circle cx="519.4" cy="132.2" r="1.5"/><circle cx="517.3" cy="118.2" r="1.5"/><circle cx="539.7" cy="127.8" r="1.5"/><circle cx="493.3" cy="199.8" r="1.5"/><circle cx="578.4" cy="121.7" r="1.5"/><circle cx="603.3" cy="174.2" r="1.5"/><circle cx="545.6" cy="112.2" r="1.5"/><circle cx="567.7" cy="154.9" r="1.5"/><circle cx="512.8" cy="187.3" r="1.5"/><circle cx="598.2" cy="196" r="1.5"/><circle cx="531.3" cy="165.9" r="1.5"/><circle cx="576" cy="191.4" r="1.5"/><circle cx="502.2" cy="149.7" r="1.5"/><circle cx="596.5" cy="214.2" r="1.5"/><circle cx="449.6" cy="226" r="1.5"/><circle cx="522.6" cy="139.3" r="1.5"/><circle cx="560.8" cy="116.3" r="1.5"/><circle cx="534.2" cy="202.6" r="1.5"/><circle cx="567.8" cy="232.6" r="1.5"/><circle cx="542.4" cy="200.7" r="1.5"/><circle cx="457.9" cy="224.2" r="1.5"/><circle cx="590.1" cy="166.3" r="1.5"/><circle cx="554.8" cy="170.5" r="1.5"/><circle cx="462.2" cy="219.3" r="1.5"/><circle cx="527.1" cy="173.5" r="1.5"/><circle cx="540.1" cy="189" r="1.5"/><circle cx="556.8" cy="154.8" r="1.5"/><circle cx="607.2" cy="224.1" r="1.5"/><circle cx="497.6" cy="155.9" r="1.5"/><circle cx="515.5" cy="134.9" r="1.5"/><circle cx="652" cy="222.2" r="1.5"/><circle cx="522.7" cy="210.8" r="1.5"/><circle cx="483.1" cy="224.6" r="1.5"/><circle cx="599.9" cy="172.9" r="1.5"/><circle cx="596.3" cy="230.6" r="1.5"/><circle cx="575.3" cy="118.8" r="1.5"/><circle cx="535.6" cy="186.7" r="1.5"/><circle cx="556.7" cy="105.6" r="1.5"/><circle cx="551.1" cy="134.8" r="1.5"/><circle cx="541.1" cy="130.2" r="1.5"/><circle cx="526" cy="163.8" r="1.5"/><circle cx="498.9" cy="167.5" r="1.5"/><circle cx="527.6" cy="142.9" r="1.5"/><circle cx="566.9" cy="222.6" r="1.5"/><circle cx="526" cy="164.9" r="1.5"/><circle cx="543.7" cy="199.1" r="1.5"/><circle cx="567.1" cy="176" r="1.5"/><circle cx="550.5" cy="150.7" r="1.5"/><circle cx="586.5" cy="136.7" r="1.5"/><circle cx="552.8" cy="211.7" r="1.5"/><circle cx="572.1" cy="166.8" r="1.5"/><circle cx="605.5" cy="213" r="1.5"/><circle cx="579.8" cy="230.6" r="1.5"/><circle cx="610.2" cy="214.1" r="1.5"/><circle cx="574.8" cy="223.1" r="1.5"/><circle cx="575.5" cy="216.4" r="1.5"/><circle cx="560.4" cy="212.9" r="1.5"/><circle cx="517.5" cy="197" r="1.5"/><circle cx="567.2" cy="151.1" r="1.5"/><circle cx="518" cy="172.5" r="1.5"/><circle cx="498.3" cy="206.7" r="1.5"/><circle cx="570.8" cy="200.9" r="1.5"/><circle cx="620.5" cy="145.5" r="1.5"/><circle cx="548.6" cy="155.6" r="1.5"/><circle cx="501.9" cy="151.1" r="1.5"/><circle cx="568.6" cy="215.5" r="1.5"/><circle cx="574.5" cy="230.6" r="1.5"/><circle cx="494.2" cy="210.5" r="1.5"/><circle cx="512.6" cy="154.2" r="1.5"/><circle cx="508.9" cy="209.1" r="1.5"/><circle cx="591.7" cy="180.7" r="1.5"/><circle cx="455.2" cy="215.1" r="1.5"/><circle cx="548.2" cy="136.4" r="1.5"/><circle cx="480.1" cy="193.8" r="1.5"/><circle cx="511" cy="184.4" r="1.5"/><circle cx="564.3" cy="141.6" r="1.5"/><circle cx="568.6" cy="192" r="1.5"/><circle cx="568.7" cy="122.1" r="1.5"/><circle cx="566.7" cy="158.9" r="1.5"/><circle cx="601.6" cy="156.4" r="1.5"/><circle cx="553.5" cy="108.1" r="1.5"/><circle cx="507.7" cy="151.9" r="1.5"/><circle cx="512.9" cy="203.3" r="1.5"/><circle cx="518.7" cy="147.8" r="1.5"/><circle cx="494.7" cy="168.5" r="1.5"/><circle cx="489.2" cy="171.9" r="1.5"/><circle cx="564.3" cy="121.7" r="1.5"/><circle cx="521.3" cy="171.2" r="1.5"/><circle cx="554.3" cy="143.7" r="1.5"/><circle cx="552.3" cy="151.8" r="1.5"/><circle cx="568" cy="172.7" r="1.5"/><circle cx="526.5" cy="223" r="1.5"/><circle cx="509" cy="205.5" r="1.5"/><circle cx="552.1" cy="212.9" r="1.5"/><circle cx="581.4" cy="211.1" r="1.5"/><circle cx="506.5" cy="140.2" r="1.5"/><circle cx="525.3" cy="181" r="1.5"/><circle cx="483.6" cy="211.8" r="1.5"/><circle cx="470.8" cy="216.9" r="1.5"/><circle cx="460.6" cy="217.4" r="1.5"/><circle cx="472.3" cy="224.6" r="1.5"/><circle cx="466.5" cy="220.3" r="1.5"/><circle cx="487.7" cy="221.5" r="1.5"/><circle cx="457.9" cy="220.4" r="1.5"/><circle cx="491.8" cy="213.9" r="1.5"/><circle cx="474.4" cy="221.3" r="1.5"/><circle cx="467.4" cy="206.9" r="1.5"/><circle cx="480.5" cy="220.2" r="1.5"/><circle cx="475.7" cy="216.9" r="1.5"/><circle cx="468.3" cy="204.2" r="1.5"/><circle cx="482.5" cy="202.2" r="1.5"/><circle cx="463.2" cy="211.9" r="1.5"/><circle cx="480.6" cy="206.5" r="1.5"/><circle cx="453.3" cy="219.4" r="1.5"/><circle cx="478.1" cy="224.9" r="1.5"/><circle cx="472.9" cy="216.1" r="1.5"/><circle cx="454" cy="219.4" r="1.5"/><circle cx="454.8" cy="219.7" r="1.5"/><circle cx="481.7" cy="216.8" r="1.5"/><circle cx="476.9" cy="233.5" r="1.5"/><circle cx="612.7" cy="233.5" r="1.5"/><circle cx="553.3" cy="233.5" r="1.5"/><circle cx="594.2" cy="233.5" r="1.5"/><circle cx="502.4" cy="233.5" r="1.5"/><circle cx="611.6" cy="233.5" r="1.5"/><circle cx="668.4" cy="233.5" r="1.5"/><circle cx="467.4" cy="233.5" r="1.5"/><circle cx="520.1" cy="233.5" r="1.5"/><circle cx="641.3" cy="233.5" r="1.5"/><circle cx="637.4" cy="233.5" r="1.5"/><circle cx="641.8" cy="233.5" r="1.5"/><circle cx="499.8" cy="233.5" r="1.5"/><circle cx="573.9" cy="233.5" r="1.5"/><circle cx="468.9" cy="233.5" r="1.5"/><circle cx="544.8" cy="233.5" r="1.5"/><circle cx="576.7" cy="233.5" r="1.5"/><circle cx="506.9" cy="233.5" r="1.5"/></g>
<line x1="443" y1="234" x2="558" y2="34" stroke="#9a1616" stroke-width="2" stroke-linecap="round"/>
<line x1="558" y1="34" x2="673" y2="234" stroke="#1b6532" stroke-width="2" stroke-linecap="round"/>
<line x1="443" y1="234" x2="673" y2="234" stroke="#1c1c66" stroke-width="2" stroke-linecap="round"/>
<g font-family='"Liberation Sans", sans-serif'><text x="462.7" y="196.2" font-size="6.5" fill="#a83030" text-anchor="end">20</text><line x1="463" y1="194" x2="466" y2="194" stroke="#7a1010" stroke-width="1"/><text transform="translate(585.8,71) rotate(-60)" font-size="6.5" fill="#2a7a45">20</text><line x1="581" y1="74" x2="582.5" y2="71.4" stroke="#104a20" stroke-width="1"/><text transform="translate(627.2,240) rotate(60)" font-size="6.5" fill="#33338a">20</text><line x1="627" y1="234" x2="628.5" y2="236.6" stroke="#101050" stroke-width="1"/><text x="485.7" y="156.2" font-size="6.5" fill="#a83030" text-anchor="end">40</text><line x1="486" y1="154" x2="489" y2="154" stroke="#7a1010" stroke-width="1"/><text transform="translate(608.8,111) rotate(-60)" font-size="6.5" fill="#2a7a45">40</text><line x1="604" y1="114" x2="605.5" y2="111.4" stroke="#104a20" stroke-width="1"/><text transform="translate(581.2,240) rotate(60)" font-size="6.5" fill="#33338a">40</text><line x1="581" y1="234" x2="582.5" y2="236.6" stroke="#101050" stroke-width="1"/><text x="508.7" y="116.2" font-size="6.5" fill="#a83030" text-anchor="end">60</text><line x1="509" y1="114" x2="512" y2="114" stroke="#7a1010" stroke-width="1"/><text transform="translate(631.8,151) rotate(-60)" font-size="6.5" fill="#2a7a45">60</text><line x1="627" y1="154" x2="628.5" y2="151.4" stroke="#104a20" stroke-width="1"/><text transform="translate(535.2,240) rotate(60)" font-size="6.5" fill="#33338a">60</text><line x1="535" y1="234" x2="536.5" y2="236.6" stroke="#101050" stroke-width="1"/><text x="531.7" y="76.2" font-size="6.5" fill="#a83030" text-anchor="end">80</text><line x1="532" y1="74" x2="535" y2="74" stroke="#7a1010" stroke-width="1"/><text transform="translate(654.8,191) rotate(-60)" font-size="6.5" fill="#2a7a45">80</text><line x1="650" y1="194" x2="651.5" y2="191.4" stroke="#104a20" stroke-width="1"/><text transform="translate(489.2,240) rotate(60)" font-size="6.5" fill="#33338a">80</text><line x1="489" y1="234" x2="490.5" y2="236.6" stroke="#101050" stroke-width="1"/><text x="554.7" y="36.2" font-size="5.8" fill="#a83030" text-anchor="end">100</text><line x1="555" y1="34" x2="558" y2="34" stroke="#7a1010" stroke-width="1"/><text transform="translate(677.8,231) rotate(-60)" font-size="6.5" fill="#2a7a45">100</text><line x1="673" y1="234" x2="674.5" y2="231.4" stroke="#104a20" stroke-width="1"/><text transform="translate(443.2,240) rotate(60)" font-size="6.5" fill="#33338a">100</text><line x1="443" y1="234" x2="444.5" y2="236.6" stroke="#101050" stroke-width="1"/></g>
<g font-family='"Liberation Sans", sans-serif'><text x="216.5" y="10.8" font-size="16" fill="#1a1a1a" text-anchor="middle" font-weight="normal" >T Helper Cell LncRNA Expression</text><text x="25.6" y="37.2" font-size="23.5" fill="#111" text-anchor="start" font-weight="normal" >A</text><text x="196" y="25.7" font-size="10.3" fill="#8a1a1a" text-anchor="middle" font-weight="normal" >Th2</text><text x="59.8" y="232.5" font-size="11" fill="#33336e" text-anchor="start" font-weight="normal" >Th1</text><text x="313.5" y="232.4" font-size="10.3" fill="#2a6a40" text-anchor="start" font-weight="normal" >Th17</text><line x1="97.3" y1="157.8" x2="142.9" y2="79.1" stroke="#9c1c1c" stroke-width="2.1"/><polyline points="143.4,84.2 143.3,78.4 138.2,81.2" fill="none" stroke="#9c1c1c" stroke-width="2.1" stroke-linejoin="miter" stroke-linecap="butt"/><line x1="245.6" y1="78.6" x2="291.5" y2="157.5" stroke="#1d6b35" stroke-width="2.1"/><polyline points="286.8,155.4 291.9,158.2 292,152.4" fill="none" stroke="#1d6b35" stroke-width="2.1" stroke-linejoin="miter" stroke-linecap="butt"/><line x1="283.8" y1="244.3" x2="109.8" y2="244.3" stroke="#22226e" stroke-width="1.8"/><polyline points="117.8,239.8 109,244.3 117.8,248.8" fill="none" stroke="#22226e" stroke-width="1.8" stroke-linejoin="miter" stroke-linecap="butt"/><text transform="translate(115.5,119.5) rotate(-60)" font-size="11.5" fill="#8a1515" text-anchor="middle">Th2</text><text transform="translate(272,116) rotate(60)" font-size="11.5" fill="#1d5a32" text-anchor="middle">Th17</text><text x="116.4" y="35.5" font-size="10.7" fill="#222" text-anchor="middle" font-weight="normal" >lincR-Epas1-3´-AS</text><text x="116.7" y="47.6" font-size="10.7" fill="#222" text-anchor="middle" font-weight="normal" >seRNA</text><text x="84.3" y="72.7" font-size="10.7" fill="#222" text-anchor="middle" font-weight="normal" >LincR-Gata3-3´</text><text x="84.8" y="84.8" font-size="10.7" fill="#222" text-anchor="middle" font-weight="normal" >seRNA</text><text x="27.8" y="145.1" font-size="10.3" fill="#222" text-anchor="middle" font-weight="normal" >NeST</text><text x="27.8" y="157.6" font-size="10.3" fill="#222" text-anchor="middle" font-weight="normal" >seRNA</text><line x1="133.7" y1="44.2" x2="180.5" y2="61.5" stroke="#555" stroke-width="1.8"/><line x1="113.1" y1="77.1" x2="181" y2="86.2" stroke="#555" stroke-width="1.8"/><line x1="29.9" y1="162.9" x2="80.5" y2="222.5" stroke="#555" stroke-width="1.8"/><circle cx="184.8" cy="62.7" r="3.8" fill="#fff" stroke="#555" stroke-width="1.7"/><circle cx="184.8" cy="62.7" r="1.3" fill="#111"/><circle cx="185.5" cy="86.4" r="3.8" fill="#fff" stroke="#555" stroke-width="1.7"/><circle cx="185.5" cy="86.4" r="1.3" fill="#111"/><circle cx="82.6" cy="224.8" r="3.8" fill="#fff" stroke="#555" stroke-width="1.7"/><circle cx="82.6" cy="224.8" r="1.3" fill="#111"/><text x="328.3" y="137.4" font-size="10.5" fill="#111" text-anchor="middle" font-weight="bold" >Concentration</text><rect x="317.3" y="140.3" width="11.6" height="59.3" fill="url(#cgrad)"/><path d="M326.4,162h2.5M326.4,175h2.5M326.4,190.2h2.5" stroke="#fff" stroke-width="0.9" opacity="0.8"/><text x="331.8" y="151.1" font-size="10.3" fill="#333" text-anchor="start" font-weight="normal" >High</text><text x="331.8" y="199.6" font-size="10.3" fill="#3a3a78" text-anchor="start" font-weight="normal" >Low</text><text x="580" y="15.8" font-size="16" fill="#1a1a1a" text-anchor="middle" font-weight="normal" >T Helper Cell miRNA Expression</text><text x="389.4" y="38.7" font-size="23.5" fill="#111" text-anchor="start" font-weight="normal" >B</text><text x="561" y="31.8" font-size="10.3" fill="#8a1a1a" text-anchor="middle" font-weight="normal" >Th2</text><text x="424.8" y="238.3" font-size="11" fill="#33336e" text-anchor="start" font-weight="normal" >Th1</text><text x="678.6" y="238.3" font-size="10.3" fill="#2a6a40" text-anchor="start" font-weight="normal" >Th17</text><line x1="461" y1="163.5" x2="507.1" y2="84.5" stroke="#9c1c1c" stroke-width="2.1"/><polyline points="507.6,89.6 507.5,83.8 502.4,86.6" fill="none" stroke="#9c1c1c" stroke-width="2.1" stroke-linejoin="miter" stroke-linecap="butt"/><line x1="609.5" y1="83.8" x2="655.4" y2="163.9" stroke="#1d6b35" stroke-width="2.1"/><polyline points="650.7,161.8 655.8,164.6 655.9,158.8" fill="none" stroke="#1d6b35" stroke-width="2.1" stroke-linejoin="miter" stroke-linecap="butt"/><line x1="604.4" y1="253.1" x2="511.9" y2="253.1" stroke="#22226e" stroke-width="1.8"/><polyline points="519.9,248.6 511.1,253.1 519.9,257.6" fill="none" stroke="#22226e" stroke-width="1.8" stroke-linejoin="miter" stroke-linecap="butt"/><text transform="translate(479.7,124.9) rotate(-60)" font-size="11.5" fill="#8a1515" text-anchor="middle">Th2</text><text transform="translate(635.9,121.8) rotate(60)" font-size="11.5" fill="#1d5a32" text-anchor="middle">Th17</text><text x="436.5" y="150" font-size="10.6" fill="#222" text-anchor="middle" font-weight="normal" >miR-142</text><text x="687.5" y="257.6" font-size="10.6" fill="#222" text-anchor="middle" font-weight="normal" >miR-155</text><line x1="438" y1="152.6" x2="547.5" y2="164.6" stroke="#555" stroke-width="1.8"/><line x1="603.4" y1="218.4" x2="664.3" y2="253.3" stroke="#555" stroke-width="1.8"/><circle cx="551.2" cy="165" r="3.8" fill="none" stroke="#6e7448" stroke-width="1.7"/><circle cx="600.4" cy="215.9" r="3.8" fill="#fff" stroke="#555" stroke-width="1.7"/><circle cx="600.4" cy="215.9" r="1.3" fill="#111"/><text x="692.5" y="138.5" font-size="10.5" fill="#111" text-anchor="middle" font-weight="bold" >Concentration</text><rect x="682.3" y="141.7" width="11.5" height="59.6" fill="url(#cgrad)"/><path d="M691.3,162.7h2.5M691.3,177.2h2.5M682.3,186.6h2.5M691.3,191h2.5M682.3,196h2.5" stroke="#fff" stroke-width="0.9" opacity="0.8"/><text x="696.2" y="152.1" font-size="10.3" fill="#333" text-anchor="start" font-weight="normal" >High</text><text x="696.2" y="200.3" font-size="10.3" fill="#3a3a78" text-anchor="start" font-weight="normal" >Low</text></g>
<g font-family='"Liberation Sans", sans-serif'><text x="25" y="302.2" font-size="23.5" fill="#111" text-anchor="start" font-weight="normal" >C</text><rect x="84.8" y="300.2" width="57.4" height="3.8" fill="#24a03c"/><rect x="154.4" y="299.6" width="83.6" height="3.8" fill="#24a03c"/><text x="116.7" y="297" font-size="10.5" fill="#222" text-anchor="middle" font-weight="normal" >Th1 SE</text><text x="192.8" y="296.8" font-size="10.5" fill="#222" text-anchor="middle" font-weight="normal" >Th1 SE</text><text x="160.8" y="316.6" font-size="10.5" fill="#222" text-anchor="start" font-weight="normal" >Ifng</text><path d="M164.4,320.6h7.6" stroke="#a82020" stroke-width="1.9" stroke-dasharray="1.6,0.9"/><text x="227.2" y="315.2" font-size="10.7" fill="#222" text-anchor="start" font-weight="normal" >NeST lncRNA</text><rect x="224.5" y="316.4" width="72.5" height="4.1" fill="#9a1a1a"/><text x="80" y="321.1" font-size="8" fill="#333" text-anchor="end" font-weight="normal" >0.01-</text><text x="80" y="338.5" font-size="8" fill="#333" text-anchor="end" font-weight="normal" >0.01-</text><text x="80" y="354.8" font-size="8" fill="#333" text-anchor="end" font-weight="normal" >0.01-</text><text x="80" y="374.5" font-size="8" fill="#333" text-anchor="end" font-weight="normal" >8810-</text><text x="80" y="390.1" font-size="8" fill="#333" text-anchor="end" font-weight="normal" >8810-</text><text x="80" y="408" font-size="8" fill="#333" text-anchor="end" font-weight="normal" >8810-</text><text x="23.4" y="331.4" font-size="10.5" fill="#222" text-anchor="start" font-weight="normal" >Th1</text><text x="23.4" y="348.6" font-size="10.5" fill="#222" text-anchor="start" font-weight="normal" >Th2</text><text x="23.4" y="365.8" font-size="10.5" fill="#222" text-anchor="start" font-weight="normal" >Th17</text><text x="23.4" y="384.4" font-size="10.5" fill="#222" text-anchor="start" font-weight="normal" >Th1</text><text x="23.4" y="401.6" font-size="10.5" fill="#222" text-anchor="start" font-weight="normal" >Th2</text><text x="23.4" y="418.8" font-size="10.5" fill="#222" text-anchor="start" font-weight="normal" >Th17</text><rect x="13.9" y="321" width="1.7" height="49" fill="#111"/><rect x="13.9" y="374.7" width="1.7" height="48.8" fill="#111"/><text transform="translate(8.3,345) rotate(-90)" font-size="10.5" fill="#222" text-anchor="middle">RNA-seq</text><text transform="translate(8.3,398) rotate(-90)" font-size="10.5" fill="#222" text-anchor="middle">P300</text><text x="48.6" y="435.8" font-size="12.5" fill="#777" text-anchor="start" font-weight="normal" >mm9</text><rect x="79.7" y="430" width="113" height="4" fill="#6e6e6e"/><text x="196.8" y="435.8" font-size="11" fill="#444" text-anchor="start" font-weight="normal" >100kb</text><text x="106.5" y="481.7" font-size="10.3" fill="#222" text-anchor="middle" font-weight="normal" >Th1, Th2,</text><text x="106.5" y="494.5" font-size="10.3" fill="#222" text-anchor="middle" font-weight="normal" >Th17 SE</text><rect x="100.3" y="497.5" width="5.1" height="3.6" fill="#24a03c"/><text x="176" y="481.7" font-size="10.3" fill="#222" text-anchor="middle" font-weight="normal" >Th1, Th17</text><text x="176" y="494.5" font-size="10.3" fill="#222" text-anchor="middle" font-weight="normal" >SE</text><rect x="160.7" y="497.5" width="28.8" height="3.6" fill="#24a03c"/><text x="233.5" y="494.5" font-size="10.3" fill="#222" text-anchor="middle" font-weight="normal" >Th17 SE</text><rect x="220.8" y="497.5" width="17.2" height="3.6" fill="#24a03c"/><text x="300.5" y="481.7" font-size="10.3" fill="#222" text-anchor="middle" font-weight="normal" >Th1, Th17</text><text x="300.5" y="494.5" font-size="10.3" fill="#222" text-anchor="middle" font-weight="normal" >SE</text><rect x="296.2" y="497.5" width="4.8" height="3.6" fill="#24a03c"/><text x="359" y="481.7" font-size="10.3" fill="#222" text-anchor="middle" font-weight="normal" >Th1, Th2,</text><text x="359" y="494.5" font-size="10.3" fill="#222" text-anchor="middle" font-weight="normal" >Th17 SE</text><rect x="340.9" y="497.5" width="25.2" height="3.6" fill="#24a03c"/><text x="361.7" y="515.2" font-size="10.5" fill="#222" text-anchor="end" font-weight="normal" >miR-155</text><rect x="364" y="510" width="4.7" height="3.3" fill="#9a1a1a"/><text x="78.6" y="505.7" font-size="8" fill="#333" text-anchor="end" font-weight="normal" >1.125-</text><text x="78.6" y="523.5" font-size="8" fill="#333" text-anchor="end" font-weight="normal" >1.125-</text><text x="78.6" y="540.9" font-size="8" fill="#333" text-anchor="end" font-weight="normal" >1.125-</text><text x="78.6" y="558.4" font-size="8" fill="#333" text-anchor="end" font-weight="normal" >3467-</text><text x="78.6" y="576.2" font-size="8" fill="#333" text-anchor="end" font-weight="normal" >3467-</text><text x="78.6" y="593.7" font-size="8" fill="#333" text-anchor="end" font-weight="normal" >3467-</text><text x="19.9" y="515.2" font-size="10.5" fill="#222" text-anchor="start" font-weight="normal" >Th1</text><text x="19.9" y="532.8" font-size="10.5" fill="#222" text-anchor="start" font-weight="normal" >Th2</text><text x="19.9" y="549.8" font-size="10.5" fill="#222" text-anchor="start" font-weight="normal" >Th17</text><text x="19.9" y="568.5" font-size="10.5" fill="#222" text-anchor="start" font-weight="normal" >Th1</text><text x="19.9" y="586" font-size="10.5" fill="#222" text-anchor="start" font-weight="normal" >Th2</text><text x="19.9" y="603.2" font-size="10.5" fill="#222" text-anchor="start" font-weight="normal" >Th17</text><rect x="17.7" y="506.3" width="1.7" height="48.7" fill="#111"/><rect x="17.7" y="560.3" width="1.7" height="46.7" fill="#111"/><text transform="translate(11.5,529.5) rotate(-90)" font-size="10.5" fill="#222" text-anchor="middle">RNA-seq</text><text transform="translate(11.5,583) rotate(-90)" font-size="10.5" fill="#222" text-anchor="middle">P300</text><text x="48.6" y="622" font-size="12.5" fill="#777" text-anchor="start" font-weight="normal" >mm9</text><rect x="77" y="615.6" width="101.7" height="4.4" fill="#6e6e6e"/><text x="183.8" y="622" font-size="11" fill="#444" text-anchor="start" font-weight="normal" >50kb</text><path d="M164.5,336.2v-3M165.7,336.2v-2.5M167.6,336.2v-5.5M168.8,336.2v-3.5M170,336.2v-4.5" stroke="#2a2a80" stroke-width="0.8" fill="none"/><rect x="194.3" y="335.3" width="0.9" height="0.9" fill="#2a2a80"/><rect x="197.7" y="335.3" width="0.9" height="0.9" fill="#2a2a80"/><rect x="200.9" y="335.3" width="0.9" height="0.9" fill="#2a2a80"/><rect x="203.3" y="335.3" width="0.9" height="0.9" fill="#2a2a80"/><rect x="205.7" y="335.3" width="0.9" height="0.9" fill="#2a2a80"/><rect x="210.1" y="335.3" width="0.9" height="0.9" fill="#2a2a80"/><rect x="212.2" y="335.3" width="0.9" height="0.9" fill="#2a2a80"/><rect x="217.2" y="335.3" width="0.9" height="0.9" fill="#2a2a80"/><rect x="222" y="335.3" width="0.9" height="0.9" fill="#2a2a80"/><line x1="226" y1="335.8" x2="250.5" y2="335.8" stroke="#2a2a80" stroke-width="0.7"/><path d="M227.5,336.2v-2M229,336.2v-3M230.5,336.2v-2.5M232,336.2v-4M233.2,336.2v-5M234.2,336.2v-10M235.3,336.2v-6M236.5,336.2v-4M238,336.2v-3M239.5,336.2v-4M241,336.2v-5.5M242.3,336.2v-3.5M243.5,336.2v-6M245,336.2v-4.5M246.3,336.2v-3M247.5,336.2v-4M249,336.2v-2.5M260.5,336.2v-14.5" stroke="#2a2a80" stroke-width="0.8" fill="none"/><rect x="252" y="335.3" width="0.9" height="0.9" fill="#2a2a80"/><rect x="256.4" y="335.3" width="0.9" height="0.9" fill="#2a2a80"/><rect x="258.6" y="335.3" width="0.9" height="0.9" fill="#2a2a80"/><rect x="261.1" y="335.3" width="0.9" height="0.9" fill="#2a2a80"/><rect x="264.2" y="335.3" width="0.9" height="0.9" fill="#2a2a80"/><line x1="265.7" y1="335.9" x2="295.6" y2="335.9" stroke="#2a2a80" stroke-width="0.5"/><path d="M268,336.2v-2M271,336.2v-1.5M274,336.2v-2.5M277,336.2v-2M280,336.2v-2.5M283,336.2v-2M286,336.2v-2.5M289,336.2v-2M292,336.2v-1.5M295,336.2v-2" stroke="#2a2a80" stroke-width="0.8" fill="none"/><path d="M367.6,335.5v17M370.6,335.5v17" stroke="#2a2a80" stroke-width="0.9"/><rect x="358" y="335.3" width="0.9" height="0.9" fill="#2a2a80"/><rect x="360.6" y="335.3" width="0.9" height="0.9" fill="#2a2a80"/><rect x="365.9" y="335.3" width="0.9" height="0.9" fill="#2a2a80"/><rect x="371.2" y="335.3" width="0.9" height="0.9" fill="#2a2a80"/><path d="M225,370.7v-8M233.3,370.7v-16.5M235,370.7v-16.5M234.2,370.7v-2M237.5,370.7v-9M240,370.7v-4M248,370.7v-2M260.6,370.7v-8.5M231,370.7v-2" stroke="#2a2a80" stroke-width="0.8" fill="none"/><rect x="240" y="369.6" width="0.9" height="0.9" fill="#2a2a80"/><rect x="244.8" y="369.6" width="0.9" height="0.9" fill="#2a2a80"/><rect x="252.5" y="369.6" width="0.9" height="0.9" fill="#2a2a80"/><rect x="260" y="369.6" width="0.9" height="0.9" fill="#2a2a80"/><rect x="265.2" y="369.6" width="0.9" height="0.9" fill="#2a2a80"/><rect x="269.4" y="369.6" width="0.9" height="0.9" fill="#2a2a80"/><rect x="273.7" y="369.6" width="0.9" height="0.9" fill="#2a2a80"/><rect x="279.2" y="369.6" width="0.9" height="0.9" fill="#2a2a80"/><rect x="286.8" y="369.6" width="0.9" height="0.9" fill="#2a2a80"/><rect x="290.8" y="369.6" width="0.9" height="0.9" fill="#2a2a80"/><line x1="81.5" y1="387.2" x2="96.4" y2="387.2" stroke="#981414" stroke-width="0.75"/><line x1="99.3" y1="387.2" x2="142.7" y2="387.2" stroke="#981414" stroke-width="0.75"/><line x1="150.4" y1="387.2" x2="201.5" y2="387.2" stroke="#981414" stroke-width="0.75"/><line x1="205.3" y1="387.2" x2="372.2" y2="387.2" stroke="#981414" stroke-width="0.75"/><path d="M84.2,387.6v-1.5M88.3,387.6v-3.3M102.2,387.6v-4.3M116.2,387.6v-3.4M125.3,387.6v-15.4M126.5,387.6v-13M132.4,387.6v-4M138.8,387.6v-8M140,387.6v-6M158.1,387.6v-5M163.9,387.6v-5M164.8,387.6v-4M167.1,387.6v-10M168,387.6v-3M177.4,387.6v-3M184.7,387.6v-8.7M185.7,387.6v-6M196.6,387.6v-6.6M198.6,387.6v-9.7M210.5,387.6v-15.4M216.9,387.6v-3.4M225.6,387.6v-5M226.6,387.6v-4M238.9,387.6v-3M240,387.6v-2M250,387.6v-1.5M266,387.6v-1.5M300,387.6v-1.5M334,387.6v-1.5M345,387.6v-1.5M357,387.6v-2.5" stroke="#981414" stroke-width="1.1" fill="none"/><path d="M127.8,387.6v-0.7M135,387.6v-1.1M104.5,387.6v-1.6M84.4,387.6v-0.6M111.7,387.6v-1M129,387.6v-1.5M177.6,387.6v-2.4M102.1,387.6v-0.6M85.5,387.6v-0.9M353.2,387.6v-0.9M85.5,387.6v-2M82.8,387.6v-1.4M107.9,387.6v-0.9M86.7,387.6v-0.6M360.9,387.6v-2.5M84.8,387.6v-1.3M169.8,387.6v-1.1M82.7,387.6v-0.6M129.3,387.6v-0.9M163.9,387.6v-1.6M84.4,387.6v-1.4M173.6,387.6v-0.9M244.2,387.6v-1.4M82,387.6v-0.7M246.9,387.6v-0.8M90.9,387.6v-1.2M82.5,387.6v-2M328.2,387.6v-0.6M320.8,387.6v-2.5M85.8,387.6v-0.8M273.9,387.6v-0.7M126,387.6v-2.5M268.9,387.6v-2.2M177.6,387.6v-2.2" stroke="#981414" stroke-width="0.7" fill="none"/><line x1="81" y1="405" x2="96.4" y2="405" stroke="#981414" stroke-width="0.7"/><line x1="98.3" y1="405" x2="142.7" y2="405" stroke="#981414" stroke-width="0.7"/><line x1="149.4" y1="405" x2="202.4" y2="405" stroke="#981414" stroke-width="0.7"/><line x1="205" y1="405" x2="372.2" y2="405" stroke="#981414" stroke-width="0.7"/><path d="M84,405.3v-1.5M139,405.3v-3M167,405.3v-4M185,405.3v-2.5M210.5,405.3v-2.5M226,405.3v-1.5M300,405.3v-1.5M345,405.3v-1.5" stroke="#981414" stroke-width="0.9" fill="none"/><path d="M216.2,405.3v-1.5M114.6,405.3v-1.2M180.1,405.3v-0.9M179.5,405.3v-0.7M197.1,405.3v-1.2M168.8,405.3v-0.6M187,405.3v-1M87.8,405.3v-0.7" stroke="#981414" stroke-width="0.7" fill="none"/><line x1="81" y1="421.8" x2="96.4" y2="421.8" stroke="#981414" stroke-width="0.7"/><line x1="98.3" y1="421.8" x2="112.8" y2="421.8" stroke="#981414" stroke-width="0.7"/><line x1="114.3" y1="421.8" x2="123.4" y2="421.8" stroke="#981414" stroke-width="0.7"/><line x1="124.3" y1="421.8" x2="142.7" y2="421.8" stroke="#981414" stroke-width="0.7"/><line x1="149.4" y1="421.8" x2="202.4" y2="421.8" stroke="#981414" stroke-width="0.7"/><line x1="205" y1="421.8" x2="262" y2="421.8" stroke="#981414" stroke-width="0.7"/><line x1="264" y1="421.8" x2="300" y2="421.8" stroke="#981414" stroke-width="0.7"/><line x1="302" y1="421.8" x2="340" y2="421.8" stroke="#981414" stroke-width="0.7"/><line x1="342" y1="421.8" x2="372.2" y2="421.8" stroke="#981414" stroke-width="0.7"/><path d="M226,422.1v-2.5M302,422.1v-1.5M332,422.1v-2" stroke="#981414" stroke-width="0.9" fill="none"/><path d="M271,422.1v-0.7M299.5,422.1v-1" stroke="#981414" stroke-width="0.7" fill="none"/><path d="M229.3,520.8v-2.5" stroke="#2a2a80" stroke-width="0.8" fill="none"/><rect x="350" y="519.7" width="0.9" height="0.9" fill="#2a2a80"/><rect x="352.9" y="519.7" width="0.9" height="0.9" fill="#2a2a80"/><rect x="356.7" y="519.7" width="0.9" height="0.9" fill="#2a2a80"/><rect x="360" y="519.7" width="0.9" height="0.9" fill="#2a2a80"/><rect x="365" y="519.7" width="0.9" height="0.9" fill="#2a2a80"/><rect x="367.7" y="519.7" width="0.9" height="0.9" fill="#2a2a80"/><path d="M360,520.8v-1M366,520.8v-1.5" stroke="#2a2a80" stroke-width="0.7" fill="none"/><rect x="90" y="537.3" width="0.9" height="0.9" fill="#2a2a80"/><rect x="93.2" y="537.3" width="0.9" height="0.9" fill="#2a2a80"/><rect x="170" y="537.3" width="0.9" height="0.9" fill="#2a2a80"/><rect x="172.6" y="537.3" width="0.9" height="0.9" fill="#2a2a80"/><rect x="178" y="537.3" width="0.9" height="0.9" fill="#2a2a80"/><rect x="335" y="554.7" width="0.9" height="0.9" fill="#2a2a80"/><rect x="338.3" y="554.7" width="0.9" height="0.9" fill="#2a2a80"/><rect x="343.4" y="554.7" width="0.9" height="0.9" fill="#2a2a80"/><rect x="347.9" y="554.7" width="0.9" height="0.9" fill="#2a2a80"/><rect x="353.4" y="554.7" width="0.9" height="0.9" fill="#2a2a80"/><rect x="357.7" y="554.7" width="0.9" height="0.9" fill="#2a2a80"/><rect x="364.5" y="554.7" width="0.9" height="0.9" fill="#2a2a80"/><path d="M229.3,555.8v-18.5M343,555.8v-2M347,555.8v-3.5M350,555.8v-4M353,555.8v-5M354.5,555.8v-3M356,555.8v-3.5M358,555.8v-4M359.5,555.8v-3M360.5,555.8v-6M362,555.8v-5M363.3,555.8v-8M364.4,555.8v-12M365.4,555.8v-17.4M366.3,555.8v-17.4M367.2,555.8v-10" stroke="#2a2a80" stroke-width="0.9" fill="none"/><line x1="343" y1="538.5" x2="367" y2="538.5" stroke="#2a2a80" stroke-width="0.8"/><line x1="86" y1="571.6" x2="110" y2="571.6" stroke="#981414" stroke-width="0.9" stroke-dasharray="3,1.5,1,2"/><line x1="117" y1="571.6" x2="141" y2="571.6" stroke="#981414" stroke-width="0.9" stroke-dasharray="3,1.5,1,2"/><line x1="149" y1="571.6" x2="162" y2="571.6" stroke="#981414" stroke-width="0.9" stroke-dasharray="3,1.5,1,2"/><line x1="166" y1="571.6" x2="208" y2="571.6" stroke="#981414" stroke-width="0.9" stroke-dasharray="3,1.5,1,2"/><line x1="213" y1="571.6" x2="261" y2="571.6" stroke="#981414" stroke-width="0.9" stroke-dasharray="3,1.5,1,2"/><line x1="266" y1="571.6" x2="332" y2="571.6" stroke="#981414" stroke-width="0.9" stroke-dasharray="3,1.5,1,2"/><line x1="336" y1="571.6" x2="368.7" y2="571.6" stroke="#981414" stroke-width="0.9" stroke-dasharray="3,1.5,1,2"/><path d="M100.3,571.9v-16.2M101.5,571.9v-8M103,571.9v-3M150,571.9v-2M176.5,571.9v-6M177.5,571.9v-9M179,571.9v-4M181.5,571.9v-2.5M228,571.9v-2M296.5,571.9v-7M298,571.9v-10M299.5,571.9v-10M300.8,571.9v-5M343,571.9v-2M361.5,571.9v-4M363,571.9v-6M364.5,571.9v-3" stroke="#981414" stroke-width="1.1" fill="none"/><path d="M238.1,571.9v-0.9M269.9,571.9v-1.9M92.1,571.9v-0.8M157.4,571.9v-1.3M137,571.9v-0.7M205.2,571.9v-0.9M196.4,571.9v-0.6M139.4,571.9v-0.8M108,571.9v-2M220.9,571.9v-1M308.5,571.9v-0.6M234.2,571.9v-0.7M345,571.9v-1.4M149.2,571.9v-0.8M94,571.9v-1.4M290.4,571.9v-1.4M159.6,571.9v-0.9M160.8,571.9v-2M131.6,571.9v-0.7M361.3,571.9v-1.4M295.1,571.9v-1.5M150,571.9v-0.9" stroke="#981414" stroke-width="0.7" fill="none"/><line x1="80" y1="590.1" x2="100" y2="590.1" stroke="#981414" stroke-width="0.9" stroke-dasharray="3,1.5,1,2"/><line x1="100" y1="590.1" x2="368.7" y2="590.1" stroke="#981414" stroke-width="0.8"/><path d="M100.3,590.4v-17M101.8,590.4v-4M150,590.4v-1.5M176.8,590.4v-17M178.3,590.4v-5M182,590.4v-1.5M222,590.4v-2M296.5,590.4v-3M298.5,590.4v-6M300,590.4v-4M333,590.4v-2M360,590.4v-4M361.8,590.4v-12M363.2,590.4v-7M364.5,590.4v-3" stroke="#981414" stroke-width="1.1" fill="none"/><path d="M147.7,590.4v-1.3M218.5,590.4v-0.8M273.7,590.4v-1.5M288.9,590.4v-0.7M280.5,590.4v-0.6M204.5,590.4v-0.9M161.8,590.4v-1.2M288.6,590.4v-0.6M143,590.4v-1.4M182.1,590.4v-0.9M273.8,590.4v-1.6" stroke="#981414" stroke-width="0.7" fill="none"/><line x1="80" y1="606.8" x2="120" y2="606.8" stroke="#981414" stroke-width="0.9" stroke-dasharray="3,1.5,1,2"/><line x1="122" y1="606.8" x2="200" y2="606.8" stroke="#981414" stroke-width="0.9" stroke-dasharray="3,1.5,1,2"/><line x1="204" y1="606.8" x2="270" y2="606.8" stroke="#981414" stroke-width="0.9" stroke-dasharray="3,1.5,1,2"/><line x1="274" y1="606.8" x2="368.7" y2="606.8" stroke="#981414" stroke-width="0.9" stroke-dasharray="3,1.5,1,2"/><path d="M100.3,607.1v-17M102.8,607.1v-6M148,607.1v-2M176.8,607.1v-17M178.3,607.1v-6M183,607.1v-2M226.4,607.1v-17M227.8,607.1v-3M296.2,607.1v-10M298.5,607.1v-13M300,607.1v-5M341,607.1v-3M351,607.1v-2M362.6,607.1v-8M364,607.1v-3" stroke="#981414" stroke-width="1.1" fill="none"/><path d="M368.6,607.1v-0.9M284.9,607.1v-1.2M263.3,607.1v-0.9M365.6,607.1v-2M347.2,607.1v-0.7M264.3,607.1v-0.7M195.8,607.1v-1.8M134.4,607.1v-1.5M191.9,607.1v-2M141,607.1v-0.6M221.5,607.1v-1.1M208.6,607.1v-0.7M366.5,607.1v-1.3M95.9,607.1v-0.8M250.8,607.1v-0.7M155.9,607.1v-0.7M159.3,607.1v-1.8M241.4,607.1v-0.7M245.2,607.1v-1.8M209.6,607.1v-0.6M186.5,607.1v-2M356.5,607.1v-1.1M359.3,607.1v-0.6M101.3,607.1v-1.9M357,607.1v-0.9M258.4,607.1v-0.9M334.9,607.1v-2M155.1,607.1v-1" stroke="#981414" stroke-width="0.7" fill="none"/></g>
<g font-family='"Liberation Sans", sans-serif'><text x="389.4" y="303.7" font-size="23.5" fill="#111" text-anchor="start" font-weight="normal" >D</text><defs><pattern id="dotp" width="6" height="6" patternUnits="userSpaceOnUse"><rect width="6" height="6" fill="#2c2a86"/><circle cx="1.5" cy="1.5" r="0.45" fill="#7c7cd0"/><circle cx="4.5" cy="4.5" r="0.45" fill="#7c7cd0"/></pattern></defs><text x="496.3" y="371.3" font-size="13.2" fill="#111" text-anchor="middle" font-weight="bold" >Enhancers Near T Helper Cell</text><text x="484.7" y="384.2" font-size="13.2" fill="#111" text-anchor="middle" font-weight="bold" >lncRNAs</text><line x1="429.8" y1="419.405" x2="429.8" y2="551.0" stroke="#111" stroke-width="1.7"/><line x1="426.2" y1="550.4" x2="429.8" y2="550.4" stroke="#111" stroke-width="1.2"/><text x="425.6" y="553" font-size="10.3" fill="#1a1a1a" text-anchor="end" font-weight="normal" >0.00</text><line x1="426.2" y1="506.9" x2="429.8" y2="506.9" stroke="#111" stroke-width="1.2"/><text x="425.6" y="509.5" font-size="10.3" fill="#1a1a1a" text-anchor="end" font-weight="normal" >0.05</text><line x1="426.2" y1="463.5" x2="429.8" y2="463.5" stroke="#111" stroke-width="1.2"/><text x="425.6" y="466.1" font-size="10.3" fill="#1a1a1a" text-anchor="end" font-weight="normal" >0.10</text><line x1="426.2" y1="420" x2="429.8" y2="420" stroke="#111" stroke-width="1.2"/><text x="425.6" y="422.6" font-size="10.3" fill="#1a1a1a" text-anchor="end" font-weight="normal" >0.15</text><rect x="434.2" y="440.4" width="15.4" height="110" fill="url(#dotp)" stroke="#111" stroke-width="1"/><rect x="449.6" y="491.5" width="13.9" height="58.9" fill="#fce600" stroke="#111" stroke-width="1"/><rect x="476.6" y="412.2" width="15.2" height="138.2" fill="url(#dotp)" stroke="#111" stroke-width="1"/><rect x="491.8" y="491.5" width="13.9" height="58.9" fill="#fce600" stroke="#111" stroke-width="1"/><rect x="519.3" y="396.5" width="15.2" height="153.9" fill="url(#dotp)" stroke="#111" stroke-width="1"/><rect x="534.5" y="483.8" width="13.6" height="66.6" fill="#fce600" stroke="#111" stroke-width="1"/><text transform="translate(401.5,482.2) rotate(-90)" font-size="10.4" fill="#222" text-anchor="middle">Proportion of Enhancers</text><text x="682" y="372.4" font-size="13.2" fill="#111" text-anchor="middle" font-weight="bold" >lncRNAs Transcribed</text><text x="681" y="385.1" font-size="13.2" fill="#111" text-anchor="middle" font-weight="bold" >from Enhancers</text><line x1="626.6" y1="393.89599999999996" x2="626.6" y2="550.2" stroke="#111" stroke-width="1.7"/><line x1="623.0" y1="549.6" x2="626.6" y2="549.6" stroke="#111" stroke-width="1.2"/><text x="622.4" y="552.2" font-size="10.3" fill="#1a1a1a" text-anchor="end" font-weight="normal" >0.00</text><line x1="623.0" y1="510.8" x2="626.6" y2="510.8" stroke="#111" stroke-width="1.2"/><text x="622.4" y="513.4" font-size="10.3" fill="#1a1a1a" text-anchor="end" font-weight="normal" >0.02</text><line x1="623.0" y1="472" x2="626.6" y2="472" stroke="#111" stroke-width="1.2"/><text x="622.4" y="474.6" font-size="10.3" fill="#1a1a1a" text-anchor="end" font-weight="normal" >0.04</text><line x1="623.0" y1="433.3" x2="626.6" y2="433.3" stroke="#111" stroke-width="1.2"/><text x="622.4" y="435.9" font-size="10.3" fill="#1a1a1a" text-anchor="end" font-weight="normal" >0.06</text><line x1="623.0" y1="394.5" x2="626.6" y2="394.5" stroke="#111" stroke-width="1.2"/><text x="622.4" y="397.1" font-size="10.3" fill="#1a1a1a" text-anchor="end" font-weight="normal" >0.08</text><rect x="632.2" y="441.4" width="15.2" height="108.2" fill="url(#dotp)" stroke="#111" stroke-width="1"/><rect x="647.4" y="531.4" width="14.6" height="18.2" fill="#fce600" stroke="#111" stroke-width="1"/><rect x="676.7" y="396.4" width="15.8" height="153.2" fill="url(#dotp)" stroke="#111" stroke-width="1"/><rect x="692.5" y="533.5" width="14.8" height="16.1" fill="#fce600" stroke="#111" stroke-width="1"/><rect x="721.8" y="387.9" width="16" height="161.7" fill="url(#dotp)" stroke="#111" stroke-width="1"/><rect x="737.8" y="532" width="14.5" height="17.6" fill="#fce600" stroke="#111" stroke-width="1"/><text transform="translate(598.2,474.5) rotate(-90)" font-size="10.4" fill="#222" text-anchor="middle">Proportion of Enhancers</text><text x="449.3" y="566.3" font-size="10.2" fill="#222" text-anchor="middle" font-weight="normal" >Th1</text><text x="492.7" y="566.3" font-size="10.2" fill="#222" text-anchor="middle" font-weight="normal" >Th2</text><text x="535.2" y="566.3" font-size="10.2" fill="#222" text-anchor="middle" font-weight="normal" >Th17</text><text x="649" y="566.3" font-size="10.2" fill="#222" text-anchor="middle" font-weight="normal" >Th1</text><text x="693.2" y="566.3" font-size="10.2" fill="#222" text-anchor="middle" font-weight="normal" >Th2</text><text x="737.2" y="566.3" font-size="10.2" fill="#222" text-anchor="middle" font-weight="normal" >Th17</text><rect x="740.3" y="448.3" width="36.6" height="29.8" fill="#fff" stroke="#111" stroke-width="1"/><rect x="748" y="455.5" width="7" height="6.3" fill="#2c2a86" stroke="#111" stroke-width="0.7"/><rect x="748" y="466.4" width="7" height="6" fill="#fce600" stroke="#111" stroke-width="0.7"/><text x="758" y="463" font-size="10.3" fill="#222" text-anchor="start" font-weight="normal" >SE</text><text x="758" y="473.9" font-size="10.3" fill="#222" text-anchor="start" font-weight="normal" >CE</text></g>
</svg>
</body></html>
